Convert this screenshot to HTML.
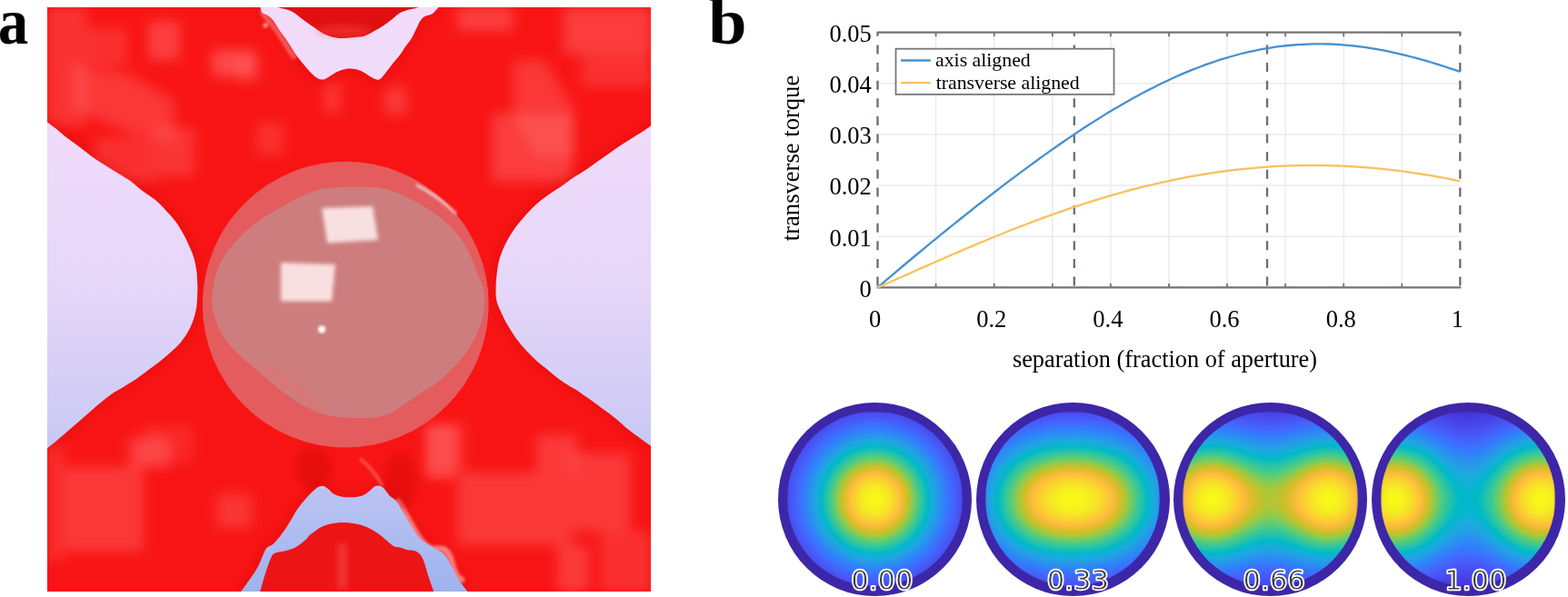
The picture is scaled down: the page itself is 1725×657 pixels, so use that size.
<!DOCTYPE html>
<html><head><meta charset="utf-8"><title>figure</title><style>
html,body{margin:0;padding:0;background:#fff;}
body{width:1725px;height:657px;position:relative;overflow:hidden;}
svg{position:absolute;left:0;top:0;}
.ring{position:absolute;border-radius:50%;background:#3e26a8;}
.disk{position:absolute;border-radius:50%;overflow:hidden;}
.blr{position:absolute;left:0;top:0;width:100%;height:100%;filter:blur(0.8px);}
.blr div{position:absolute;left:0;width:100%;height:2.5px;}
.c0r0{background:linear-gradient(90deg,#402ab5 0.0%,#4434cf 17.1%,#4746ea 34.3%,#484ef1 51.4%,#4742e6 69.1%,#412dbb 94.5%,#402ab5 99.7%)}.c0r1{background:linear-gradient(90deg,#402bb6 0.0%,#4435d1 16.6%,#4848ec 33.2%,#4853f4 49.8%,#4848ec 66.5%,#4535d2 83.1%,#402bb6 99.7%)}.c0r2{background:linear-gradient(90deg,#402bb7 0.0%,#4536d4 16.6%,#484cef 33.2%,#4757f7 49.3%,#484ef1 64.9%,#4639d9 81.0%,#412cb9 98.7%,#402bb8 99.7%)}.c0r3{background:linear-gradient(90deg,#412cb8 0.0%,#4538d8 16.6%,#484ff2 32.7%,#475bfa 48.3%,#4854f5 62.8%,#463ee1 78.9%,#412cb9 99.2%,#412cb9 99.7%)}.c0r4{background:linear-gradient(90deg,#412cba 0.0%,#473ee1 19.7%,#4757f7 35.8%,#4661fc 50.4%,#4855f6 65.4%,#463cdf 81.5%,#412cba 99.7%)}.c0r5{background:linear-gradient(90deg,#412dbb 0.0%,#463ee1 18.2%,#4759f8 34.3%,#4466fd 48.8%,#465dfb 62.3%,#4743e8 78.4%,#4230c3 95.0%,#412dbb 99.7%)}.c0r6{background:linear-gradient(90deg,#412dbc 0.0%,#473ee2 17.1%,#475bf9 32.7%,#416bfe 47.2%,#4466fd 59.7%,#484ef1 74.2%,#4434cf 90.9%,#412dbd 99.7%)}.c0r7{background:linear-gradient(90deg,#412ebe 0.0%,#473fe2 16.1%,#475cfa 31.2%,#3d71ff 45.7%,#3f6eff 57.1%,#4855f6 72.7%,#4538d8 88.3%,#422ebe 99.7%)}.c0r8{background:linear-gradient(90deg,#422ebf 0.0%,#473fe3 15.1%,#465efb 29.6%,#3776fe 44.7%,#3776fe 55.6%,#475cfa 71.1%,#463de0 86.2%,#422ec0 99.7%)}.c0r9{background:linear-gradient(90deg,#422fc1 0.0%,#4741e5 14.5%,#4660fc 28.6%,#3579fd 41.0%,#307ffb 51.9%,#3974ff 61.8%,#475dfa 72.7%,#463de0 87.2%,#422fc1 99.7%)}.c0r10{background:linear-gradient(90deg,#422fc2 0.0%,#4741e5 13.5%,#4660fc 27.0%,#3777fe 36.3%,#2e83f9 43.6%,#2e84f8 54.5%,#3579fd 62.8%,#4561fc 72.7%,#4741e5 86.2%,#4230c3 99.7%)}.c0r11{background:linear-gradient(90deg,#4230c4 0.0%,#4742e6 13.0%,#4562fc 26.0%,#3579fd 34.3%,#2e86f8 41.0%,#2d8cf3 51.9%,#307efb 63.3%,#4367fd 72.2%,#4849ed 84.1%,#4433cb 97.1%,#4330c5 99.7%)}.c0r12{background:linear-gradient(90deg,#4331c6 0.0%,#4743e7 12.5%,#4564fd 24.9%,#337bfd 32.7%,#2c90f0 44.1%,#2b91ef 54.5%,#307efb 65.9%,#4368fe 73.7%,#4849ed 85.2%,#4433cc 97.6%,#4331c7 99.7%)}.c0r13{background:linear-gradient(90deg,#4331c8 0.0%,#4744e9 11.9%,#4465fd 23.9%,#317cfc 31.2%,#2995ec 42.6%,#2699e9 53.0%,#2d89f5 63.9%,#347afd 69.6%,#4464fd 76.3%,#4744e8 88.3%,#4332c9 99.7%)}.c0r14{background:linear-gradient(90deg,#4332ca 0.0%,#4745ea 11.4%,#4466fd 22.8%,#317dfc 29.6%,#2699e9 41.0%,#23a0e5 51.4%,#2994ed 61.8%,#337bfc 71.1%,#4465fd 77.4%,#4745e9 88.8%,#4332cb 99.7%)}.c0r15{background:linear-gradient(90deg,#4433cc 0.0%,#4848ec 11.4%,#4367fd 21.8%,#307efb 28.0%,#259de6 40.0%,#1fa6e2 50.4%,#259ce7 60.7%,#337bfc 72.7%,#4466fd 78.4%,#4744e9 89.8%,#4433cd 99.7%)}.c0r16{background:linear-gradient(90deg,#4434ce 0.0%,#4849ed 10.9%,#4368fd 20.8%,#307efc 26.5%,#23a1e5 38.4%,#19acdc 48.8%,#20a5e2 59.2%,#2d8df2 69.1%,#337bfc 74.2%,#4465fd 80.0%,#4743e7 91.4%,#4434cf 99.7%)}.c0r17{background:linear-gradient(90deg,#4434d0 0.0%,#484bef 10.9%,#426afe 20.2%,#2f81fa 26.0%,#20a4e3 37.4%,#11b2d5 47.2%,#12b1d6 54.0%,#22a1e4 63.9%,#347afd 75.8%,#4465fd 81.0%,#4742e6 92.4%,#4435d1 99.7%)}.c0r18{background:linear-gradient(90deg,#4535d2 0.0%,#484df1 10.9%,#426afe 19.2%,#2f80fb 24.4%,#22a2e4 34.3%,#0bb3d2 43.1%,#02b7cc 48.8%,#07b5d0 55.6%,#1fa6e2 64.4%,#2e85f8 74.2%,#3776fe 77.9%,#4563fd 82.6%,#473fe3 94.5%,#4536d3 99.7%)}.c0r19{background:linear-gradient(90deg,#4536d4 0.0%,#4850f3 10.9%,#416cfe 18.7%,#2e83f9 23.9%,#22a2e4 32.2%,#10b2d5 38.4%,#01b8ca 42.6%,#04bbc1 50.4%,#02b7cc 58.2%,#1da9e0 65.4%,#2e86f7 75.3%,#3579fd 78.4%,#4465fd 83.1%,#4742e6 94.0%,#4536d5 99.7%)}.c0r20{background:linear-gradient(90deg,#4537d6 0.0%,#4852f4 10.9%,#416cfe 17.7%,#2e83f9 22.8%,#22a2e4 30.6%,#12b1d6 35.8%,#02b7cb 38.9%,#03bbc2 42.1%,#16bfb7 48.3%,#13beb9 53.5%,#00b9c7 59.7%,#06b5cf 62.3%,#1babde 66.5%,#2d89f5 75.8%,#3579fd 79.4%,#4464fd 84.1%,#4740e4 95.5%,#4537d7 99.7%)}.c0r21{background:linear-gradient(90deg,#4538d8 0.0%,#4855f6 10.9%,#406dfe 17.1%,#2f81fa 21.3%,#249fe5 28.6%,#12b1d7 33.7%,#01b8ca 36.9%,#05bcc0 39.5%,#21c1b1 44.7%,#28c2ab 50.4%,#20c1b1 55.6%,#01bac4 61.8%,#03b6cd 63.9%,#1aacdd 68.0%,#2d89f5 76.8%,#3579fd 80.5%,#4466fd 84.6%,#4743e7 95.0%,#4538d9 99.7%)}.c0r22{background:linear-gradient(90deg,#4639d9 0.0%,#4757f7 10.9%,#3e6fff 16.6%,#2e83f9 20.8%,#23a0e5 27.5%,#12b1d6 32.2%,#01b8ca 34.8%,#04bbc1 36.9%,#24c1ae 41.5%,#31c5a1 47.2%,#30c5a2 53.5%,#23c1af 58.7%,#01bac4 63.9%,#04b6ce 65.9%,#1aabdd 69.6%,#2d89f5 77.9%,#337bfd 81.0%,#4367fd 85.2%,#4744e9 95.0%,#4639da 99.7%)}.c0r23{background:linear-gradient(90deg,#463adb 0.0%,#475af9 10.9%,#3d70ff 16.1%,#2e82f9 19.7%,#249fe5 26.0%,#12b1d7 30.6%,#01b8ca 33.2%,#03bbc1 34.8%,#25c2ad 38.9%,#36c899 44.7%,#3cc991 50.4%,#33c79c 56.6%,#24c1ae 61.3%,#02bbc3 65.4%,#01b7cb 67.0%,#1babde 71.1%,#2d89f6 78.9%,#347afd 82.0%,#4466fd 86.2%,#4742e6 96.6%,#463bdc 99.7%)}.c0r24{background:linear-gradient(90deg,#463bdd 0.0%,#475cfa 10.9%,#3c71ff 15.6%,#2f82fa 18.7%,#249fe5 24.9%,#14b0d8 29.1%,#01b8ca 31.7%,#04bbc1 33.2%,#26c2ad 36.9%,#45cb89 45.2%,#4ecc82 49.8%,#44cb89 55.0%,#24c1ae 63.3%,#03bbc2 67.0%,#02b7cb 68.5%,#1babde 72.2%,#2d88f6 80.0%,#3579fd 83.1%,#4464fd 87.2%,#473fe3 98.1%,#463cde 99.7%)}.c0r25{background:linear-gradient(90deg,#463cdf 0.0%,#465ffb 10.9%,#3b72ff 15.1%,#2e83f9 18.2%,#23a1e4 24.4%,#13b0d7 28.0%,#02b7cb 30.1%,#03bbc2 31.7%,#27c2ac 35.3%,#4ecc81 43.1%,#60cd72 47.8%,#60cd73 52.4%,#4dcc82 57.1%,#30c5a1 62.8%,#22c1b0 65.4%,#02bbc3 68.5%,#03b6cd 70.1%,#1aacdd 73.2%,#2d8af5 80.5%,#347afd 83.6%,#4465fd 87.7%,#4741e4 98.1%,#463de0 99.7%)}.c0r26{background:linear-gradient(90deg,#463de0 0.0%,#4562fc 10.9%,#3a73ff 14.5%,#2e84f9 17.7%,#23a0e5 23.4%,#13b0d7 27.0%,#01b7cb 29.1%,#05bcc0 30.6%,#27c2ac 33.7%,#44cb89 38.9%,#68cd6b 44.1%,#78cc5f 48.8%,#74cd62 53.0%,#5acc77 58.2%,#36c899 63.3%,#21c1b1 67.0%,#03bbc2 69.6%,#02b7cc 71.1%,#1aabdd 74.2%,#2d88f6 81.5%,#3678fd 84.6%,#4465fd 88.3%,#4741e4 98.7%,#463ee1 99.7%)}.c0r27{background:linear-gradient(90deg,#473ee2 0.0%,#4562fc 10.4%,#3a74ff 14.0%,#2f82f9 16.6%,#249fe5 22.3%,#14b0d8 26.0%,#01b7ca 28.0%,#06bcc0 29.6%,#25c2ad 32.2%,#43ca8b 36.9%,#78cc5f 43.1%,#8dcb50 47.2%,#8fcb4d 51.4%,#81cc59 55.6%,#59cc78 60.7%,#36c898 64.9%,#23c1af 68.0%,#04bbc1 70.6%,#02b7cc 72.2%,#19addb 74.8%,#2d8cf3 81.5%,#327cfc 84.6%,#4466fd 88.8%,#4742e6 98.7%,#473fe3 99.7%)}.c0r28{background:linear-gradient(90deg,#473fe3 0.0%,#4464fd 10.4%,#3677fe 14.0%,#2e86f8 16.6%,#21a3e3 22.3%,#10b2d5 25.4%,#01b7cb 27.0%,#02bac3 28.0%,#27c2ac 31.2%,#43ca8b 35.3%,#82cc58 41.5%,#9dc943 45.7%,#a7c73c 49.8%,#9ec942 54.0%,#85cc56 58.2%,#41ca8c 64.9%,#25c2ae 69.1%,#04bbc1 71.7%,#00b8c9 72.7%,#19acdc 75.8%,#2d8af5 82.6%,#3479fd 85.7%,#4466fd 89.3%,#4742e6 99.2%,#4740e4 99.7%)}.c0r29{background:linear-gradient(90deg,#4740e4 0.0%,#4464fd 9.9%,#3678fe 13.5%,#2e86f7 16.1%,#22a2e4 21.3%,#12b1d7 24.4%,#02b7cc 26.0%,#01bac4 27.0%,#0bbdbc 28.0%,#27c2ac 30.1%,#40ca8d 33.7%,#8ecb4f 40.5%,#adc638 44.7%,#bbc430 48.8%,#b7c532 53.0%,#a2c83f 57.1%,#7bcc5d 61.3%,#3ac993 67.0%,#25c2ae 70.1%,#03bbc2 72.7%,#01b8ca 73.7%,#1babde 76.8%,#2d8bf4 83.1%,#347afd 86.2%,#4466fd 89.8%,#4741e5 99.7%)}.c0r30{background:linear-gradient(90deg,#4742e6 0.0%,#4464fd 9.3%,#3678fe 13.0%,#2e86f7 15.6%,#21a3e4 20.8%,#15b0d8 23.4%,#01b8ca 25.4%,#03bbc2 26.5%,#26c2ad 29.1%,#42ca8b 32.7%,#91ca4c 38.9%,#b3c534 42.6%,#c9c129 46.7%,#cec027 50.9%,#c2c22c 55.0%,#a5c83d 59.2%,#75cc61 63.3%,#3bc993 68.0%,#24c1ae 71.1%,#02bac4 73.7%,#02b7cb 74.8%,#1aacdd 77.4%,#2d8bf4 83.6%,#347afd 86.7%,#4466fd 90.3%,#4742e7 99.7%)}.c0r31{background:linear-gradient(90deg,#4743e7 0.0%,#4467fd 9.3%,#337bfd 13.0%,#21a3e3 20.2%,#14b0d7 22.8%,#02b7cc 24.4%,#01bac4 25.4%,#0dbdbb 26.5%,#29c3aa 28.6%,#42ca8b 31.7%,#91ca4c 37.4%,#b4c533 40.5%,#ccc028 43.6%,#dcbd29 47.8%,#dcbd29 52.4%,#cbc128 56.6%,#adc638 60.2%,#79cc5e 64.4%,#3ac993 69.1%,#22c1b0 72.2%,#03bbc1 74.2%,#01b8ca 75.3%,#19addc 77.9%,#2d8bf4 84.1%,#347afd 87.2%,#4465fd 90.9%,#4744e8 99.7%)}.c0r32{background:linear-gradient(90deg,#4744e8 0.0%,#4466fd 8.8%,#337afd 12.5%,#21a4e3 19.7%,#12b1d7 22.3%,#02b7cb 23.9%,#02bbc3 24.9%,#27c2ac 27.5%,#40ca8d 30.6%,#8ecb4f 35.8%,#b6c532 38.9%,#cec027 41.5%,#e5bb2c 45.7%,#ecba32 50.4%,#e2bc2b 55.0%,#c8c129 59.2%,#a7c73c 62.3%,#53cc7d 68.0%,#39c995 70.1%,#25c2ae 72.7%,#05bcc0 74.8%,#00b8c8 75.8%,#1babde 78.9%,#2d88f6 85.2%,#3479fd 87.7%,#4465fd 91.4%,#4745e9 99.7%)}.c0r33{background:linear-gradient(90deg,#4745e9 0.0%,#4465fd 8.3%,#347afd 11.9%,#21a4e3 19.2%,#12b1d6 21.8%,#01b8ca 23.4%,#03bbc1 24.4%,#29c3aa 27.0%,#3eca8f 29.6%,#87cb54 34.3%,#b4c534 37.4%,#d0bf27 40.0%,#ecba32 44.1%,#f7ba3d 48.3%,#f4ba3a 53.5%,#e2bc2b 57.6%,#c9c129 60.7%,#a3c83f 63.9%,#51cc7f 69.1%,#37c897 71.1%,#21c1b1 73.7%,#07bcbf 75.3%,#00b9c8 76.3%,#07b5d0 77.4%,#18aedb 78.9%,#2d8ef1 84.6%,#327cfc 87.7%,#4367fd 91.4%,#4746ea 99.7%)}.c0r34{background:linear-gradient(90deg,#4746ea 0.0%,#4367fd 8.3%,#317cfc 11.9%,#23a1e5 18.2%,#12b1d6 21.3%,#01b8ca 22.8%,#04bbc1 23.9%,#25c2ae 26.0%,#41ca8c 29.1%,#8ecb4f 33.7%,#b5c533 36.3%,#cfc027 38.4%,#e9ba2f 41.5%,#f9ba3e 44.7%,#febf3b 49.3%,#fabb3e 55.0%,#e8bb2e 58.7%,#ccc028 61.8%,#abc739 64.4%,#55cc7b 69.6%,#39c895 71.7%,#22c1b0 74.2%,#02bbc3 76.3%,#02b7cc 77.4%,#18aedb 79.4%,#2d8df2 85.2%,#337bfc 88.3%,#4466fd 91.9%,#4747eb 99.7%)}.c0r35{background:linear-gradient(90deg,#4747eb 0.0%,#4466fd 7.8%,#327bfc 11.4%,#21a3e3 18.2%,#12b1d6 20.8%,#01b8ca 22.3%,#04bbc1 23.4%,#26c2ad 25.4%,#43ca8b 28.6%,#93ca4a 33.2%,#bcc42f 35.8%,#d0bf27 37.4%,#e9bb2f 40.0%,#faba3e 42.6%,#fec338 46.2%,#fec636 51.9%,#fbbb3e 57.1%,#ebba31 59.7%,#d3bf27 62.3%,#c0c32c 63.9%,#99c946 66.5%,#47cb87 71.1%,#35c79a 72.7%,#23c1af 74.8%,#02bbc3 76.8%,#02b7cc 77.9%,#18addb 80.0%,#2d8df2 85.7%,#337afd 88.8%,#4465fd 92.4%,#4848ec 99.7%)}.c0r36{background:linear-gradient(90deg,#4847ec 0.0%,#4368fe 7.8%,#307efc 11.4%,#249fe5 17.1%,#13b1d7 20.2%,#01b8ca 21.8%,#04bbc1 22.8%,#26c2ad 24.9%,#44cb89 28.0%,#8fcb4e 32.2%,#bac430 34.8%,#cfc027 36.3%,#e6bb2d 38.4%,#fabb3e 41.0%,#fec338 43.6%,#fdce31 49.3%,#fec735 55.0%,#fbbb3e 58.7%,#edba33 60.7%,#d9bd28 62.8%,#c6c22a 64.4%,#9dc943 67.0%,#52cc7e 71.1%,#3ac993 72.7%,#23c1af 75.3%,#02bbc3 77.4%,#02b7cc 78.4%,#19addc 80.5%,#2d8cf3 86.2%,#327cfc 88.8%,#4367fd 92.4%,#4848ec 99.7%)}.c0r37{background:linear-gradient(90deg,#4848ec 0.0%,#4467fd 7.3%,#327cfc 10.9%,#22a2e4 17.1%,#14b0d8 19.7%,#02b7cb 21.3%,#03bbc2 22.3%,#25c2ad 24.4%,#44cb89 27.5%,#91ca4c 31.7%,#bec32e 34.3%,#d4bf27 35.8%,#ebba31 37.9%,#fbbb3e 40.0%,#fdcb32 44.1%,#fad52d 49.8%,#fdcc32 55.6%,#fdbc3e 59.7%,#f2ba38 61.3%,#debd29 63.3%,#cac128 64.9%,#a0c840 67.5%,#52cc7e 71.7%,#3bc993 73.2%,#22c1b0 75.8%,#07bcbf 77.4%,#00b8c8 78.4%,#09b4d1 79.4%,#1aacdc 81.0%,#2d8bf4 86.7%,#337bfc 89.3%,#4368fe 92.4%,#4849ed 99.7%)}.c0r38{background:linear-gradient(90deg,#4849ed 0.0%,#4368fe 7.3%,#307efb 10.9%,#259de6 16.1%,#15afd9 19.2%,#03b7cc 20.8%,#02bbc3 21.8%,#2ac3a9 24.4%,#44cb8a 27.0%,#93ca4b 31.2%,#c1c32c 33.7%,#d7be28 35.3%,#eeba34 37.4%,#fbbb3e 38.9%,#fdcc32 42.6%,#f7db2a 48.3%,#f9d72c 54.0%,#fec13a 59.7%,#faba3e 61.3%,#dbbd28 64.4%,#c5c22a 65.9%,#99c946 68.5%,#49cb85 72.7%,#35c79a 74.2%,#21c1b1 76.3%,#05bcc0 77.9%,#01b8ca 78.9%,#1aabdd 81.5%,#2d89f5 87.2%,#3479fd 89.8%,#4367fd 92.9%,#484aee 99.7%)}.c0r39{background:linear-gradient(90deg,#484aee 0.0%,#4269fe 7.3%,#2f80fb 10.9%,#2896ec 14.5%,#17aeda 18.7%,#01b8c9 20.8%,#06bcc0 21.8%,#29c3ab 23.9%,#42ca8b 26.5%,#88cb53 30.1%,#b9c430 32.7%,#d2bf27 34.3%,#ebba31 36.3%,#fabb3e 37.9%,#fec537 40.0%,#f6de29 46.2%,#f5e228 51.4%,#fbd32e 57.1%,#febe3c 61.3%,#f8ba3d 62.3%,#ddbd29 64.9%,#c7c129 66.5%,#a3c83f 68.5%,#51cc7f 72.7%,#39c995 74.2%,#26c2ad 76.3%,#03bbc2 78.4%,#02b7cb 79.4%,#19addc 81.5%,#2d8ef1 86.7%,#337bfc 89.8%,#4368fe 92.9%,#484bee 99.7%)}.c0r40{background:linear-gradient(90deg,#484aee 0.0%,#4368fe 6.7%,#307efc 10.4%,#249de6 15.6%,#15b0d8 18.7%,#02b7cb 20.2%,#03bbc2 21.3%,#26c2ac 23.4%,#40ca8d 26.0%,#7bcc5d 29.1%,#afc636 31.7%,#cac128 33.2%,#e0bc2a 34.8%,#fbbb3e 37.4%,#fdcc32 40.5%,#f5e327 46.2%,#f5e726 51.9%,#fad62d 57.6%,#fdbc3d 62.3%,#f5ba3b 63.3%,#debd29 65.4%,#c7c129 67.0%,#a2c840 69.1%,#4ecc81 73.2%,#37c897 74.8%,#24c1af 76.8%,#07bcbf 78.4%,#00b8c8 79.4%,#0ab4d2 80.5%,#1aacdd 82.0%,#2d8cf3 87.2%,#317cfc 89.8%,#4467fd 93.5%,#484bef 99.7%)}.c0r41{background:linear-gradient(90deg,#484bef 0.0%,#4369fe 6.7%,#307ffb 10.4%,#2895ec 14.0%,#17aeda 18.2%,#01b8c9 20.2%,#07bcbf 21.3%,#23c1af 22.8%,#45cb89 26.0%,#8ecb4e 29.6%,#b7c532 31.7%,#d1bf27 33.2%,#e7bb2d 34.8%,#f7ba3d 36.3%,#fec13a 37.9%,#f6e028 43.6%,#f5ec22 48.8%,#f5e626 54.5%,#fdcd32 60.2%,#febd3d 62.8%,#f5ba3b 63.9%,#ddbd29 65.9%,#c6c22a 67.5%,#9fc941 69.6%,#54cc7c 73.2%,#3ac993 74.8%,#20c1b1 77.4%,#04bbc1 78.9%,#01b7cb 80.0%,#19addc 82.0%,#2d8ef2 87.2%,#337afd 90.3%,#4367fd 93.5%,#484cef 99.7%)}.c0r42{background:linear-gradient(90deg,#484bef 0.0%,#4269fe 6.7%,#2f80fb 10.4%,#2797eb 14.0%,#19addc 17.7%,#02b7cc 19.7%,#03bbc2 20.8%,#27c2ac 22.8%,#41ca8c 25.4%,#7fcc5a 28.6%,#b4c533 31.2%,#cfc027 32.7%,#e6bb2d 34.3%,#f7ba3c 35.8%,#febe3c 36.9%,#f6dd2a 42.1%,#f5ee21 47.2%,#f5ee21 53.0%,#f7dc2a 58.2%,#fec03b 62.8%,#fabb3e 63.9%,#dcbd29 66.5%,#c3c22b 68.0%,#9bc944 70.1%,#50cc80 73.7%,#38c896 75.3%,#24c1af 77.4%,#07bcbf 78.9%,#00b8c9 80.0%,#1aabdd 82.6%,#2d8cf3 87.7%,#327bfc 90.3%,#4368fe 93.5%,#484cf0 99.7%)}.c0r43{background:linear-gradient(90deg,#484cef 0.0%,#426afe 6.7%,#2f81fa 10.4%,#2797ea 14.0%,#18addb 17.7%,#01b8ca 19.7%,#05bcc0 20.8%,#29c3aa 22.8%,#3dc990 24.9%,#79cc5e 28.0%,#b0c636 30.6%,#ccc028 32.2%,#e3bb2b 33.7%,#fbbb3e 35.8%,#fec835 37.9%,#f5e725 43.6%,#f7f41c 49.3%,#f5ec22 55.0%,#f9d72c 59.7%,#febf3b 63.3%,#f9ba3d 64.4%,#e0bc2a 66.5%,#c8c129 68.0%,#a1c840 70.1%,#54cc7c 73.7%,#3ac993 75.3%,#26c2ac 77.4%,#03bbc2 79.4%,#02b7cc 80.5%,#1aacdc 82.6%,#2d8cf3 87.7%,#327cfc 90.3%,#4466fd 94.0%,#484df0 99.7%)}.c0r44{background:linear-gradient(90deg,#484cf0 0.0%,#4368fe 6.2%,#307efb 9.9%,#2895ec 13.5%,#17aeda 17.7%,#00b8c9 19.7%,#08bcbe 20.8%,#25c2ae 22.3%,#3fca8e 24.9%,#7dcc5b 28.0%,#b4c533 30.6%,#d0bf27 32.2%,#e7bb2e 33.7%,#f9ba3d 35.3%,#fec338 36.9%,#f5e825 43.1%,#f7f61a 48.8%,#f6f01f 54.5%,#f8da2b 59.7%,#febe3c 63.9%,#f7ba3c 64.9%,#ddbd29 67.0%,#cdc028 68.0%,#a6c83d 70.1%,#58cc79 73.7%,#3cc991 75.3%,#21c1b0 77.9%,#04bcc1 79.4%,#01b7cb 80.5%,#19addc 82.6%,#2d8df2 87.7%,#317dfc 90.3%,#4467fd 94.0%,#484df0 99.7%)}.c0r45{background:linear-gradient(90deg,#484cf0 0.0%,#4368fe 6.2%,#307ffb 9.9%,#2896ec 13.5%,#16afd9 17.7%,#03b6cc 19.2%,#02bbc2 20.2%,#26c2ad 22.3%,#41ca8c 24.9%,#81cc58 28.0%,#b8c531 30.6%,#d3bf27 32.2%,#eaba30 33.7%,#fbbb3e 35.3%,#fec934 37.4%,#f5ea24 43.1%,#f8f818 48.8%,#f6f21e 54.5%,#f7dc2a 59.7%,#fec03b 63.9%,#f9ba3e 64.9%,#e0bc2a 67.0%,#c7c129 68.5%,#9ec942 70.6%,#51cc7f 74.2%,#38c896 75.8%,#23c1af 77.9%,#06bcbf 79.4%,#01b8ca 80.5%,#18aedb 82.6%,#2d8ef1 87.7%,#347afd 90.9%,#4367fd 94.0%,#484df1 99.7%)}.c0r46{background:linear-gradient(90deg,#484cf0 0.0%,#4369fe 6.2%,#307ffb 9.9%,#2896eb 13.5%,#1aacdc 17.1%,#02b7cc 19.2%,#03bbc2 20.2%,#27c2ac 22.3%,#43ca8a 24.9%,#83cc57 28.0%,#bac430 30.6%,#cdc028 31.7%,#e5bb2c 33.2%,#f7ba3d 34.8%,#febf3b 35.8%,#f5e128 41.0%,#f7f61a 46.2%,#f9f916 51.4%,#f5eb23 57.1%,#fbd32e 61.3%,#febd3d 64.4%,#f5ba3b 65.4%,#e2bc2b 67.0%,#c9c129 68.5%,#a1c840 70.6%,#53cc7e 74.2%,#39c995 75.8%,#24c2ae 77.9%,#07bcbf 79.4%,#01bac4 80.0%,#04b6ce 81.0%,#17aeda 82.6%,#2d8ef1 87.7%,#337afd 90.9%,#4367fd 94.0%,#484ef1 99.7%)}.c0r47{background:linear-gradient(90deg,#484df0 0.0%,#4369fe 6.2%,#2f7ffb 9.9%,#2796eb 13.5%,#19addc 17.1%,#02b7cb 19.2%,#04bbc1 20.2%,#28c2ab 22.3%,#44cb8a 24.9%,#90ca4d 28.6%,#bbc42f 30.6%,#cec027 31.7%,#e6bb2d 33.2%,#f8ba3d 34.8%,#febf3b 35.8%,#f5e227 41.0%,#f8f61a 46.2%,#f9fa15 51.4%,#f5eb23 57.1%,#fad42e 61.3%,#febe3c 64.4%,#f6ba3c 65.4%,#dbbd28 67.5%,#cac128 68.5%,#a2c83f 70.6%,#54cc7d 74.2%,#39c994 75.8%,#25c2ae 77.9%,#02bac3 80.0%,#04b6cd 81.0%,#17aeda 82.6%,#2d8ef1 87.7%,#337bfd 90.9%,#4368fd 94.0%,#484ef1 99.7%)}.c0r48{background:linear-gradient(90deg,#484df0 0.0%,#4369fe 6.2%,#2f7ffb 9.9%,#2796eb 13.5%,#19addc 17.1%,#02b7cb 19.2%,#04bbc1 20.2%,#28c2ab 22.3%,#44cb8a 24.9%,#90ca4d 28.6%,#bbc42f 30.6%,#cec027 31.7%,#e6bb2d 33.2%,#f8ba3d 34.8%,#fec03b 35.8%,#f5e227 41.0%,#f8f61a 46.2%,#f9fa15 51.4%,#f5eb23 57.1%,#fad42e 61.3%,#febe3c 64.4%,#f6ba3c 65.4%,#dbbd28 67.5%,#cac128 68.5%,#a2c83f 70.6%,#54cc7d 74.2%,#39c994 75.8%,#25c2ad 77.9%,#02bac3 80.0%,#04b6cd 81.0%,#17aeda 82.6%,#2d8ef1 87.7%,#337bfd 90.9%,#4368fe 94.0%,#484ef1 99.7%)}.c1r0{background:linear-gradient(90deg,#4332c9 0.0%,#4742e7 21.3%,#484ef1 45.7%,#4848ec 71.1%,#4538d8 90.9%,#4332c9 99.7%)}.c1r1{background:linear-gradient(90deg,#4433cb 0.0%,#4745e9 20.2%,#4852f4 44.7%,#484df0 69.6%,#463bdd 89.3%,#4433cc 99.7%)}.c1r2{background:linear-gradient(90deg,#4434ce 0.0%,#4747eb 19.2%,#4756f7 42.6%,#4852f4 66.5%,#4740e3 87.2%,#4434cf 99.7%)}.c1r3{background:linear-gradient(90deg,#4435d1 0.0%,#4849ed 18.2%,#475af9 41.0%,#4758f8 64.4%,#4744e9 85.7%,#4535d2 99.7%)}.c1r4{background:linear-gradient(90deg,#4536d4 0.0%,#484cef 17.7%,#465ffb 40.0%,#465efb 62.3%,#4849ed 84.1%,#4536d5 99.7%)}.c1r5{background:linear-gradient(90deg,#4538d7 0.0%,#484ff2 17.7%,#4563fd 38.9%,#4564fd 60.2%,#4850f2 82.0%,#4538d8 99.7%)}.c1r6{background:linear-gradient(90deg,#4639da 0.0%,#4852f4 17.1%,#4368fe 37.4%,#426afe 57.6%,#4758f8 78.4%,#473ee2 96.1%,#463adb 99.7%)}.c1r7{background:linear-gradient(90deg,#463bdd 0.0%,#4756f7 17.1%,#3f6eff 37.9%,#3d71ff 57.1%,#465ffb 76.3%,#4744e8 94.0%,#463bde 99.7%)}.c1r8{background:linear-gradient(90deg,#463de0 0.0%,#4759f8 16.6%,#3a74ff 36.9%,#3678fd 55.0%,#4369fe 73.2%,#484ff2 89.3%,#463de0 99.7%)}.c1r9{background:linear-gradient(90deg,#473fe3 0.0%,#465dfb 16.6%,#3678fe 34.3%,#2f7ffb 50.9%,#3777fe 66.5%,#475dfa 83.6%,#473fe3 99.7%)}.c1r10{background:linear-gradient(90deg,#4741e5 0.0%,#4660fb 15.6%,#3678fd 29.1%,#2e83f9 40.5%,#2e84f9 58.7%,#3578fd 70.6%,#4660fc 84.1%,#4742e6 99.7%)}.c1r11{background:linear-gradient(90deg,#4743e8 0.0%,#4562fc 14.5%,#337afd 26.5%,#2d89f5 40.0%,#2d8af4 58.2%,#337bfd 73.2%,#4563fc 85.2%,#4744e8 99.7%)}.c1r12{background:linear-gradient(90deg,#4746ea 0.0%,#4564fd 13.5%,#327cfc 23.9%,#2c8ff0 39.5%,#2b91ef 57.1%,#2f81fa 73.2%,#426afe 84.1%,#484df0 96.6%,#4747eb 99.7%)}.c1r13{background:linear-gradient(90deg,#4848ec 0.0%,#4367fd 13.0%,#307efb 22.3%,#2994ed 37.4%,#2699e9 54.5%,#2d8bf4 70.6%,#337afd 79.4%,#4564fd 88.3%,#4849ed 99.7%)}.c1r14{background:linear-gradient(90deg,#484bef 0.0%,#4269fe 11.9%,#2f80fb 20.2%,#2699e9 35.3%,#23a0e5 52.4%,#2994ed 68.5%,#327bfc 81.5%,#4464fd 89.8%,#484cef 99.7%)}.c1r15{background:linear-gradient(90deg,#484ef1 0.0%,#416bfe 10.9%,#2f81fa 18.7%,#259de7 33.2%,#1fa6e2 49.3%,#249ee6 65.9%,#2e83f9 80.5%,#3975fe 85.7%,#4561fc 92.4%,#484ef1 99.7%)}.c1r16{background:linear-gradient(90deg,#4850f3 0.0%,#406cfe 9.9%,#2f81fa 16.6%,#249fe5 30.6%,#1aacdd 46.2%,#1ea7e1 62.8%,#2c90ef 77.4%,#337bfd 85.7%,#4465fd 92.4%,#4851f4 99.7%)}.c1r17{background:linear-gradient(90deg,#4853f5 0.0%,#3f6efe 8.8%,#2f82f9 15.1%,#21a3e3 29.1%,#12b1d6 43.6%,#11b1d6 55.0%,#20a4e3 70.1%,#2d8af4 82.0%,#337bfc 87.2%,#4465fd 94.0%,#4854f5 99.7%)}.c1r18{background:linear-gradient(90deg,#4756f7 0.0%,#3f6fff 7.8%,#2e82f9 13.5%,#20a4e3 26.5%,#08b4d1 40.0%,#02b7cb 50.9%,#0ab4d1 60.7%,#21a3e4 74.2%,#317dfc 88.3%,#4465fd 95.0%,#4757f7 99.7%)}.c1r19{background:linear-gradient(90deg,#4759f8 0.0%,#3e6fff 6.7%,#2f82f9 11.9%,#20a4e3 23.9%,#0eb2d4 32.2%,#01b8ca 37.9%,#04bbc1 50.4%,#02b7cb 62.8%,#1ea7e1 74.8%,#2d8af5 85.7%,#337afd 90.3%,#4465fd 96.1%,#475af9 99.7%)}.c1r20{background:linear-gradient(90deg,#475cfa 0.0%,#3e70ff 5.7%,#2f82fa 10.4%,#22a2e4 20.8%,#10b2d5 28.0%,#01b8ca 32.7%,#06bcbf 38.4%,#16bfb7 47.2%,#12beb9 56.1%,#00b9c7 65.9%,#08b4d1 70.1%,#1baade 75.8%,#2d8af5 87.2%,#3479fd 91.9%,#4466fd 97.1%,#475dfa 99.7%)}.c1r21{background:linear-gradient(90deg,#465ffb 0.0%,#3c72ff 5.2%,#2e83f9 9.3%,#22a2e4 18.7%,#10b2d5 25.4%,#01b7ca 29.1%,#04bcc1 32.7%,#1fc0b2 40.5%,#28c2ab 49.8%,#20c1b1 59.2%,#01bac5 69.1%,#06b5cf 72.7%,#1babde 77.9%,#2d87f6 89.3%,#347afd 92.9%,#4465fd 98.1%,#4660fc 99.7%)}.c1r22{background:linear-gradient(90deg,#4562fc 0.0%,#3a74ff 4.7%,#2e83f9 8.3%,#22a2e4 17.1%,#11b1d6 22.8%,#01b8ca 26.5%,#06bcc0 29.6%,#23c1af 35.8%,#30c5a2 44.1%,#30c5a1 55.0%,#24c1ae 63.9%,#0abdbd 69.6%,#00b9c7 72.7%,#07b5d0 75.3%,#1aacdd 79.4%,#2d88f6 90.3%,#347afd 94.0%,#4465fd 99.2%,#4563fd 99.7%)}.c1r23{background:linear-gradient(90deg,#4465fd 0.0%,#337bfd 5.2%,#1da9e0 17.7%,#0fb2d4 21.3%,#01b7cb 23.9%,#04bbc1 26.5%,#25c2ae 32.2%,#35c79a 40.5%,#3cc991 50.4%,#34c79b 60.2%,#24c1ae 68.0%,#02bac3 74.2%,#04b6cd 76.8%,#19acdc 81.0%,#2d89f6 91.4%,#347afd 95.0%,#4466fd 99.7%)}.c1r24{background:linear-gradient(90deg,#4368fe 0.0%,#307ffb 5.2%,#249fe5 13.5%,#11b1d6 19.2%,#01b7cb 21.8%,#03bbc2 23.9%,#27c2ac 29.6%,#44cb8a 41.5%,#4ecc82 49.8%,#44cb89 58.2%,#2ac3a9 69.6%,#13beb8 73.7%,#02bbc3 76.3%,#02b7cc 78.4%,#1babde 83.1%,#2d89f6 92.4%,#3479fd 96.1%,#426afe 99.7%)}.c1r25{background:linear-gradient(90deg,#416cfe 0.0%,#2e83f9 5.2%,#23a0e5 12.5%,#11b1d6 17.7%,#01b8ca 20.2%,#04bcc1 22.3%,#27c2ac 27.0%,#51cc7f 39.5%,#61cd71 47.2%,#5ecd74 55.0%,#49cb85 62.8%,#23c1af 73.7%,#01bac4 78.4%,#04b6ce 80.5%,#1aacdd 84.1%,#2d88f6 93.5%,#3579fd 97.1%,#406dfe 99.7%)}.c1r26{background:linear-gradient(90deg,#3f6fff 0.0%,#2f82fa 4.2%,#23a0e5 11.4%,#12b1d7 16.1%,#01b7ca 18.7%,#05bcc0 20.8%,#27c2ac 24.9%,#49cb85 33.2%,#6acd69 41.0%,#78cc5f 48.3%,#73cd62 55.6%,#5acc77 63.3%,#34c79b 71.7%,#23c1af 75.8%,#02bac4 80.0%,#04b6ce 82.0%,#19addc 85.2%,#2d8af5 94.0%,#347afd 97.6%,#3d70ff 99.7%)}.c1r27{background:linear-gradient(90deg,#3c72ff 0.0%,#2e83f9 3.6%,#23a0e5 10.4%,#11b1d6 15.1%,#02b7cb 17.1%,#02bbc3 18.7%,#29c3aa 23.4%,#45cb89 29.6%,#77cc60 38.4%,#8ccb50 45.2%,#8fcb4e 52.4%,#81cc59 59.2%,#5ecd74 66.5%,#36c898 73.2%,#25c2ae 77.4%,#04bbc1 81.0%,#01b8ca 82.6%,#1aacdd 86.7%,#2d89f5 95.0%,#3579fd 98.7%,#3a74ff 99.7%)}.c1r28{background:linear-gradient(90deg,#3875fe 0.0%,#2e84f8 3.1%,#22a2e4 9.9%,#14b0d8 13.5%,#01b8ca 16.1%,#03bbc1 17.7%,#26c2ad 21.3%,#46cb87 27.5%,#80cc59 35.8%,#9bc945 42.1%,#a6c83c 48.8%,#a0c941 56.1%,#87cb54 62.8%,#58cc79 70.1%,#38c896 74.8%,#25c2ae 78.9%,#02bbc3 82.6%,#02b7cb 84.1%,#1aacdd 87.7%,#2d88f6 96.1%,#347afd 99.2%,#3777fe 99.7%)}.c1r29{background:linear-gradient(90deg,#3579fd 0.0%,#2d88f6 3.1%,#1caadf 10.9%,#0cb3d3 13.5%,#01b8ca 15.1%,#04bcc1 16.6%,#29c3aa 20.2%,#45cb89 25.4%,#88cb53 33.7%,#a9c73a 40.0%,#bac430 46.7%,#b9c431 54.0%,#a6c83c 60.7%,#83cc57 67.0%,#39c995 76.3%,#23c1af 80.5%,#03bbc2 83.6%,#02b7cb 85.2%,#1babde 88.8%,#2d89f5 96.6%,#337afd 99.7%)}.c1r30{background:linear-gradient(90deg,#327cfc 0.0%,#21a3e4 8.3%,#11b1d6 11.9%,#01b8ca 14.0%,#05bcc0 15.6%,#27c2ac 18.7%,#41ca8c 23.4%,#91ca4d 32.2%,#b4c534 37.9%,#c9c128 44.7%,#cdc027 51.9%,#bfc32d 59.2%,#a1c840 65.4%,#74cd62 71.1%,#39c895 77.9%,#25c2ae 81.5%,#03bbc2 84.6%,#02b7cb 86.2%,#19addc 89.3%,#2d8af5 97.1%,#317dfc 99.7%)}.c1r31{background:linear-gradient(90deg,#307ffb 0.0%,#249fe5 6.7%,#13b1d7 10.9%,#01b7cb 13.0%,#04bcc1 14.5%,#27c2ac 17.7%,#44cb89 22.3%,#92ca4b 30.1%,#b5c533 34.8%,#cec027 40.0%,#ddbd29 47.2%,#dabd28 55.0%,#c7c129 61.8%,#a6c83d 67.5%,#72cd64 73.2%,#3ac993 78.9%,#21c1b1 83.1%,#03bbc2 85.7%,#02b7cc 87.2%,#1aacdd 90.3%,#2d8af4 97.6%,#2f80fa 99.7%)}.c1r32{background:linear-gradient(90deg,#2f81fa 0.0%,#2896eb 4.2%,#18aedb 9.3%,#00b8c9 12.5%,#08bcbe 14.0%,#27c2ac 16.6%,#41ca8c 20.8%,#91ca4d 28.0%,#b9c431 32.7%,#d1bf27 36.9%,#e7bb2d 43.6%,#ecba32 51.9%,#e0bc2a 59.2%,#c8c129 64.9%,#a2c83f 70.1%,#55cc7b 77.4%,#38c896 80.5%,#20c1b1 84.1%,#02bbc3 86.7%,#04b6cd 88.3%,#19addc 90.9%,#2d8bf4 98.1%,#2e83f9 99.7%)}.c1r33{background:linear-gradient(90deg,#2e84f9 0.0%,#23a0e5 5.7%,#14b0d7 9.3%,#01b7ca 11.4%,#06bcc0 13.0%,#26c2ad 15.6%,#42ca8b 19.7%,#91ca4c 26.5%,#b9c430 30.6%,#d2bf27 34.3%,#ecba32 40.5%,#f8ba3d 47.8%,#f3ba3a 56.1%,#e1bc2a 62.8%,#c7c129 67.5%,#9fc941 72.2%,#4bcb84 79.4%,#35c79b 82.0%,#24c1af 84.6%,#04bbc1 87.2%,#02b7cc 88.8%,#18addb 91.4%,#2d8df2 98.1%,#2e86f8 99.7%)}.c1r34{background:linear-gradient(90deg,#2e86f7 0.0%,#1fa5e2 6.2%,#13b1d7 8.8%,#01b8c9 10.9%,#03bbc2 11.9%,#28c3ab 15.1%,#41ca8c 18.7%,#8ecb4e 24.9%,#b6c532 28.6%,#d0c027 31.7%,#eaba30 36.3%,#fabb3e 41.5%,#febf3b 51.4%,#f9ba3e 58.7%,#e1bc2a 65.4%,#cac128 69.1%,#a4c83e 73.2%,#51cc7f 80.0%,#37c897 82.6%,#21c1b0 85.7%,#02bac3 88.3%,#05b6ce 89.8%,#18aedb 91.9%,#2d8df2 98.7%,#2d88f6 99.7%)}.c1r35{background:linear-gradient(90deg,#2d89f6 0.0%,#1baade 6.7%,#0db3d3 8.8%,#00b8c8 10.4%,#04bbc1 11.4%,#26c2ad 14.0%,#3fca8e 17.7%,#89cb52 23.4%,#b4c533 27.0%,#d1bf27 30.1%,#ebba31 34.3%,#faba3e 37.9%,#fec338 43.6%,#fec636 53.5%,#fbbb3e 61.8%,#e7bb2e 66.5%,#cfc027 70.1%,#b2c534 73.2%,#78cc5f 77.9%,#3dca90 82.6%,#24c1af 86.2%,#02bbc2 88.8%,#04b6ce 90.3%,#17aeda 92.4%,#2d8df2 99.2%,#2d8af4 99.7%)}.c1r36{background:linear-gradient(90deg,#2d8bf4 0.0%,#19addc 6.7%,#00b8c8 9.9%,#05bcc0 10.9%,#27c2ac 13.5%,#42ca8b 17.1%,#90ca4d 22.8%,#bcc42f 26.5%,#d4bf27 29.1%,#edba33 32.7%,#fbbb3e 35.8%,#fecb33 44.1%,#fdcd31 53.5%,#fcbc3e 63.9%,#f1ba37 66.5%,#dbbd28 70.1%,#c4c22a 72.7%,#9bc945 76.3%,#4ccb83 82.0%,#37c897 84.1%,#25c2ae 86.7%,#03bbc2 89.3%,#01b8ca 90.3%,#1aacdd 93.5%,#2d8df3 99.7%)}.c1r37{background:linear-gradient(90deg,#2d8df2 0.0%,#19acdc 6.2%,#00b8c8 9.3%,#05bcc0 10.4%,#28c2ab 13.0%,#44cb89 16.6%,#95ca49 22.3%,#bcc42f 25.4%,#d2bf27 27.5%,#eaba30 30.6%,#fbbb3e 33.7%,#fec834 38.9%,#fad52d 48.3%,#fccf30 57.6%,#fcbb3e 65.9%,#efba35 68.5%,#d9be28 71.7%,#c5c22a 73.7%,#a0c840 76.8%,#4fcc80 82.6%,#38c896 84.6%,#26c2ad 87.2%,#03bbc2 89.8%,#01b8ca 90.9%,#1aabdd 94.0%,#2c8ff1 99.7%)}.c1r38{background:linear-gradient(90deg,#2c8ff1 0.0%,#17aeda 6.2%,#00b8c8 8.8%,#04bcc1 9.9%,#28c2ab 12.5%,#3fca8e 15.6%,#8acb52 20.8%,#b5c533 23.9%,#ccc028 26.0%,#e8bb2e 29.1%,#fbbb3e 32.2%,#fec934 36.9%,#f7db2b 46.2%,#f8d92c 55.6%,#fec438 64.9%,#faba3e 68.0%,#d9bd28 72.7%,#c5c22a 74.8%,#9dc943 77.9%,#51cc7f 83.1%,#38c895 85.2%,#26c2ad 87.7%,#03bbc2 90.3%,#01b8ca 91.4%,#18addb 94.0%,#2c90ef 99.7%)}.c1r39{background:linear-gradient(90deg,#2c90ef 0.0%,#18aedb 5.7%,#01b8c9 8.3%,#04bbc1 9.3%,#27c2ac 11.9%,#3fca8e 15.1%,#8ccb50 20.2%,#b8c431 23.4%,#d0bf27 25.4%,#e8bb2e 28.0%,#f9ba3e 30.6%,#fec339 33.2%,#f7dc2a 42.6%,#f5e228 51.9%,#fad52d 60.7%,#fdbc3e 68.5%,#f1ba38 70.6%,#ddbd29 73.2%,#c8c129 75.3%,#a0c841 78.4%,#51cc7f 83.6%,#38c896 85.7%,#25c2ae 88.3%,#02bbc3 90.9%,#01b7cb 91.9%,#19addc 94.5%,#2b92ee 99.7%)}.c1r40{background:linear-gradient(90deg,#2b92ee 0.0%,#16afd9 5.7%,#01b7cb 7.8%,#02bbc2 8.8%,#26c2ad 11.4%,#3eca8e 14.5%,#85cb56 19.2%,#b3c534 22.3%,#cdc028 24.4%,#e6bb2d 27.0%,#f9ba3e 29.6%,#fec13a 31.7%,#f7dc2a 40.0%,#f5e825 48.8%,#f6e028 58.2%,#fec437 67.5%,#fbbb3e 70.1%,#dbbd28 74.2%,#c5c22a 76.3%,#9ac945 79.4%,#49cb85 84.6%,#34c79c 86.7%,#24c1af 88.8%,#05bcc0 90.9%,#00b8c8 91.9%,#0eb3d4 93.5%,#1ca9df 95.5%,#2994ed 99.7%)}.c1r41{background:linear-gradient(90deg,#2a93ed 0.0%,#17aeda 5.2%,#02b7cc 7.3%,#01bac4 8.3%,#0dbdbc 9.3%,#29c3aa 11.4%,#43cb8a 14.5%,#8dcb50 19.2%,#bbc42f 22.3%,#d4bf27 24.4%,#ecba32 27.0%,#fbbb3e 29.1%,#fec934 32.7%,#f5e426 41.5%,#f5ec22 50.9%,#f5e228 59.7%,#fec437 68.5%,#faba3e 71.1%,#ddbd29 74.8%,#c6c22a 76.8%,#9ac945 80.0%,#47cb86 85.2%,#33c69d 87.2%,#22c1b0 89.3%,#03bbc2 91.4%,#01b8ca 92.4%,#19addc 95.0%,#2895ec 99.7%)}.c1r42{background:linear-gradient(90deg,#2994ed 0.0%,#19addc 4.7%,#01b8ca 7.3%,#03bbc2 8.3%,#27c2ac 10.9%,#41ca8c 14.0%,#8bcb51 18.7%,#bac430 21.8%,#cec027 23.4%,#e9bb2f 26.0%,#f9ba3e 28.0%,#fec239 30.1%,#f5e128 38.4%,#f6f020 47.2%,#f5ec23 56.6%,#f9d72d 64.9%,#fdbd3d 71.1%,#f4ba3a 72.7%,#ddbd29 75.3%,#c5c22a 77.4%,#98c946 80.5%,#4dcc82 85.2%,#35c79a 87.2%,#25c2ad 89.3%,#06bcbf 91.4%,#00b9c8 92.4%,#07b5d0 93.5%,#1aacdd 95.5%,#2896eb 99.7%)}.c1r43{background:linear-gradient(90deg,#2895ec 0.0%,#18aedb 4.7%,#00b8c8 7.3%,#05bcc0 8.3%,#25c2ae 10.4%,#3eca8f 13.5%,#7fcc5a 17.7%,#b1c635 20.8%,#cdc027 22.8%,#e4bb2c 24.9%,#f9ba3e 27.5%,#fec339 29.6%,#f5e327 37.9%,#f6f31d 46.7%,#f6f020 56.1%,#f7dc2a 64.4%,#febf3b 71.1%,#f8ba3d 72.7%,#dcbd29 75.8%,#cbc128 77.4%,#a6c83c 80.0%,#51cc7f 85.2%,#37c897 87.2%,#22c1b0 89.8%,#03bbc2 91.9%,#01b8ca 92.9%,#19addc 95.5%,#2797eb 99.7%)}.c1r44{background:linear-gradient(90deg,#2896eb 0.0%,#17aeda 4.7%,#02b7cb 6.7%,#02bbc3 7.8%,#27c2ac 10.4%,#41ca8c 13.5%,#8dcb50 18.2%,#b6c532 20.8%,#d1bf27 22.8%,#e7bb2e 24.9%,#f9ba3d 27.0%,#fec239 29.1%,#f5e426 37.4%,#f7f51b 46.2%,#f7f31d 55.6%,#f6e028 63.9%,#fec13a 71.1%,#fbbb3e 72.7%,#dbbd28 76.3%,#c8c129 77.9%,#a3c83f 80.5%,#55cc7c 85.2%,#39c995 87.2%,#24c1ae 89.8%,#05bcc0 91.9%,#00b8c9 92.9%,#1babde 96.1%,#2798ea 99.7%)}.c1r45{background:linear-gradient(90deg,#2797eb 0.0%,#19addc 4.2%,#01b8ca 6.7%,#03bbc2 7.8%,#28c2ab 10.4%,#43cb8a 13.5%,#90ca4d 18.2%,#b9c430 20.8%,#cec027 22.3%,#e5bb2c 24.4%,#fbbb3e 27.0%,#fec934 30.1%,#f5e924 38.4%,#f8f818 47.2%,#f7f51c 56.1%,#f5e128 64.4%,#fec13a 71.7%,#f9ba3e 73.2%,#debd29 76.3%,#cbc028 77.9%,#a6c83c 80.5%,#58cc79 85.2%,#3bc993 87.2%,#20c1b1 90.3%,#06bcbf 91.9%,#00b9c8 92.9%,#07b5d0 94.0%,#17aeda 95.5%,#2698ea 99.7%)}.c1r46{background:linear-gradient(90deg,#2797eb 0.0%,#19addc 4.2%,#01b8c9 6.7%,#04bbc1 7.8%,#29c3aa 10.4%,#3eca8f 13.0%,#81cc59 17.1%,#b4c534 20.2%,#d0bf27 22.3%,#e7bb2e 24.4%,#f9ba3d 26.5%,#fec338 28.6%,#f5e626 36.9%,#f8f818 45.7%,#f8f818 54.5%,#f5e626 63.3%,#fec437 71.1%,#fbbb3e 73.2%,#dabd28 76.8%,#c7c129 78.4%,#a0c841 81.0%,#51cc7f 85.7%,#37c897 87.7%,#21c1b1 90.3%,#02bbc3 92.4%,#02b7cb 93.5%,#1aacdd 96.1%,#2699e9 99.7%)}.c1r47{background:linear-gradient(90deg,#2797ea 0.0%,#18addb 4.2%,#01b8c9 6.7%,#05bcc0 7.8%,#2ac3a9 10.4%,#3fca8e 13.0%,#82cc58 17.1%,#b5c533 20.2%,#d1bf27 22.3%,#e8bb2e 24.4%,#faba3e 26.5%,#fec338 28.6%,#f5e924 37.4%,#f9f917 46.2%,#f8f818 55.0%,#f5e526 63.9%,#fec239 71.7%,#fcbb3e 73.2%,#ebba31 75.3%,#d5be27 77.4%,#c1c32c 78.9%,#99c946 81.5%,#4acb84 86.2%,#37c897 87.7%,#22c1b0 90.3%,#03bbc2 92.4%,#01b7cb 93.5%,#1aacdd 96.1%,#2699e9 99.7%)}.c1r48{background:linear-gradient(90deg,#2797ea 0.0%,#18addb 4.2%,#01b8c9 6.7%,#05bcc0 7.8%,#24c1ae 9.9%,#3fca8e 13.0%,#82cc58 17.1%,#b5c533 20.2%,#d1bf27 22.3%,#e8bb2f 24.4%,#faba3e 26.5%,#fec438 28.6%,#f5e924 37.4%,#f9f916 46.2%,#f8f818 55.0%,#f5e526 63.9%,#fec339 71.7%,#fcbb3e 73.2%,#ebba31 75.3%,#d5be27 77.4%,#c1c32c 78.9%,#99c946 81.5%,#4acb84 86.2%,#37c897 87.7%,#22c1b0 90.3%,#03bbc2 92.4%,#01b7cb 93.5%,#1aacdd 96.1%,#2699e9 99.7%)}.c2r0{background:linear-gradient(90deg,#4746ea 0.0%,#484ef1 17.7%,#4741e6 52.4%,#484ef1 85.7%,#4746ea 99.7%)}.c2r1{background:linear-gradient(90deg,#4849ed 0.0%,#4853f4 17.1%,#4744e9 51.9%,#4853f4 85.2%,#4849ed 99.7%)}.c2r2{background:linear-gradient(90deg,#484df0 0.0%,#4757f7 16.6%,#4848ec 51.9%,#4757f7 85.2%,#484df0 99.7%)}.c2r3{background:linear-gradient(90deg,#4850f3 0.0%,#475cfa 16.1%,#484bef 51.4%,#475cfa 84.6%,#4851f3 99.7%)}.c2r4{background:linear-gradient(90deg,#4854f6 0.0%,#4660fc 15.6%,#4756f6 35.3%,#484ff2 53.0%,#4661fc 84.1%,#4855f6 99.7%)}.c2r5{background:linear-gradient(90deg,#4759f8 0.0%,#4466fd 15.1%,#475dfa 32.2%,#4852f4 50.9%,#4466fd 84.1%,#475af9 98.7%,#4759f8 99.7%)}.c2r6{background:linear-gradient(90deg,#465dfa 0.0%,#416bfe 14.0%,#4465fd 29.1%,#4756f7 48.8%,#4660fc 65.9%,#416cfe 83.6%,#4561fc 97.1%,#465dfb 99.7%)}.c2r7{background:linear-gradient(90deg,#4562fc 0.0%,#3c71ff 13.5%,#406cfe 27.0%,#475af9 47.8%,#4561fc 62.8%,#3c72ff 82.0%,#426afe 94.5%,#4562fc 99.7%)}.c2r8{background:linear-gradient(90deg,#4367fd 0.0%,#3678fd 13.5%,#3a74ff 26.0%,#4661fc 43.6%,#4561fc 57.1%,#3975fe 75.3%,#3677fe 87.7%,#4367fd 99.7%)}.c2r9{background:linear-gradient(90deg,#406cfe 0.0%,#307efb 11.9%,#327cfc 24.4%,#4466fd 42.6%,#4465fd 55.6%,#3875fe 70.1%,#2f7ffb 82.6%,#3578fd 93.5%,#406dfe 99.7%)}.c2r10{background:linear-gradient(90deg,#3c72ff 0.0%,#2f81fa 8.3%,#2e85f8 20.2%,#347afd 31.7%,#426afe 45.2%,#416cfe 57.6%,#2f82fa 75.3%,#2e85f8 87.7%,#3479fd 96.6%,#3b73ff 99.7%)}.c2r11{background:linear-gradient(90deg,#3578fd 0.0%,#2e85f8 6.7%,#2d8cf3 18.2%,#307efc 33.2%,#3f6eff 47.8%,#3974ff 60.2%,#2e84f8 71.7%,#2d8cf3 84.6%,#2f81fa 96.1%,#3579fd 99.7%)}.c2r12{background:linear-gradient(90deg,#307ffb 0.0%,#2b91ef 11.4%,#2c90f0 23.4%,#337afd 40.0%,#3a73ff 51.9%,#2e86f8 68.0%,#2a93ee 82.0%,#2d8bf4 93.5%,#307ffb 99.7%)}.c2r13{background:linear-gradient(90deg,#2e84f8 0.0%,#2797ea 11.4%,#2796eb 23.4%,#337bfc 45.2%,#317cfc 56.6%,#2699e9 80.0%,#2995ec 91.4%,#2e85f8 99.7%)}.c2r14{background:linear-gradient(90deg,#2d8af4 0.0%,#259de6 10.9%,#249ee6 22.3%,#2f82fa 44.1%,#2f81fa 55.6%,#2896ec 70.6%,#23a0e5 83.6%,#2796eb 94.5%,#2d8bf4 99.7%)}.c2r15{background:linear-gradient(90deg,#2c90ef 0.0%,#21a4e3 10.9%,#20a4e3 22.3%,#2d88f6 43.6%,#2e86f7 54.5%,#2896ec 66.5%,#1fa6e2 81.0%,#23a1e5 91.9%,#2b91ef 99.7%)}.c2r16{background:linear-gradient(90deg,#2796eb 0.0%,#1caadf 10.9%,#1baade 22.3%,#2d8bf4 46.2%,#2d8ef1 57.1%,#1aacdd 79.4%,#1da8e0 90.9%,#2797eb 99.7%)}.c2r17{background:linear-gradient(90deg,#259ce7 0.0%,#15afd9 10.4%,#0fb2d5 18.2%,#1fa5e2 31.2%,#2c90ef 47.2%,#2895ec 58.2%,#16afd9 76.3%,#0fb2d5 84.6%,#1ea8e1 95.0%,#259de6 99.7%)}.c2r18{background:linear-gradient(90deg,#22a2e4 0.0%,#0bb4d2 9.3%,#02b7cb 15.6%,#08b4d0 23.4%,#1da9e0 32.7%,#2797eb 46.2%,#2699e9 57.1%,#19addb 70.1%,#03b6cd 80.0%,#05b5ce 88.3%,#1ea7e1 98.1%,#21a3e4 99.7%)}.c2r19{background:linear-gradient(90deg,#1ea8e1 0.0%,#0db3d3 5.2%,#01b8ca 8.8%,#04bbc1 17.1%,#02b7cc 26.0%,#1babde 34.8%,#259be7 47.2%,#23a0e5 58.2%,#14b0d7 68.5%,#01b8ca 74.8%,#04bbc1 83.6%,#02b7cc 91.9%,#1da8e0 99.7%)}.c2r20{background:linear-gradient(90deg,#19addc 0.0%,#01b7ca 5.2%,#05bcc0 8.8%,#16bfb7 14.5%,#13beb8 20.2%,#00bac6 27.5%,#05b5cf 31.2%,#1aacdd 37.4%,#23a0e5 49.3%,#1ca9df 60.7%,#0fb2d5 66.5%,#00b8c9 71.1%,#08bcbe 75.8%,#17bfb7 82.0%,#11beba 87.7%,#00b9c6 93.5%,#08b5d0 96.6%,#18aedb 99.7%)}.c2r21{background:linear-gradient(90deg,#10b2d5 0.0%,#01b7cb 2.6%,#04bbc1 5.2%,#21c1b1 10.9%,#28c2ab 17.1%,#1fc0b2 23.4%,#01bac4 30.6%,#05b5ce 34.3%,#18addb 40.0%,#1fa5e2 50.9%,#16afd9 61.3%,#01b8ca 67.5%,#06bcbf 71.1%,#21c1b1 77.4%,#28c2ab 84.1%,#1ec0b2 89.8%,#02bac3 95.5%,#04b6ce 98.1%,#0eb3d4 99.7%)}.c2r22{background:linear-gradient(90deg,#04b6cd 0.0%,#01bac4 2.1%,#25c2ae 7.8%,#31c6a0 14.0%,#2fc5a3 21.3%,#22c1b0 27.0%,#02bbc3 33.2%,#02b7cc 36.3%,#17aeda 43.1%,#1aabdd 53.5%,#10b2d5 59.7%,#00b8c8 64.9%,#07bcbf 68.0%,#25c2ae 73.7%,#31c6a0 81.0%,#2fc5a3 87.7%,#22c1b0 92.9%,#02bbc2 97.6%,#02b7cc 99.7%)}.c2r23{background:linear-gradient(90deg,#01bac5 0.0%,#0fbebb 2.1%,#26c2ac 5.2%,#38c896 11.9%,#3bc992 18.2%,#30c5a2 26.0%,#1ec0b2 31.2%,#03bbc2 35.8%,#02b7cc 39.5%,#14b0d8 46.7%,#13b1d7 54.5%,#00b9c7 62.3%,#09bdbe 65.4%,#27c2ac 70.6%,#3ac994 80.0%,#3ac993 86.2%,#2cc4a7 93.5%,#1bc0b4 96.6%,#02bbc3 99.7%)}.c2r24{background:linear-gradient(90deg,#0cbdbc 0.0%,#27c2ac 3.1%,#44cb89 11.4%,#4ecc82 16.6%,#44cb89 22.3%,#23c1af 33.2%,#03bbc2 38.9%,#02b7cc 43.1%,#0cb3d3 50.4%,#00b8c8 58.7%,#05bcc0 61.8%,#2ac3a9 68.5%,#49cb85 79.4%,#4dcc82 84.6%,#3dc990 90.9%,#26c2ad 97.1%,#10beba 99.7%)}.c2r25{background:linear-gradient(90deg,#1ec0b3 0.0%,#30c5a1 3.1%,#56cc7b 10.9%,#62cd70 16.1%,#5bcc77 21.3%,#33c79d 31.2%,#1ec0b3 36.9%,#04bbc1 41.5%,#01b8ca 47.2%,#00b9c7 55.0%,#07bcbf 59.2%,#2bc3a8 65.9%,#46cb88 73.7%,#5ecd74 80.0%,#61cd71 85.2%,#50cc7f 90.3%,#30c5a2 97.1%,#20c1b1 99.7%)}.c2r26{background:linear-gradient(90deg,#2ac3a9 0.0%,#46cb88 5.2%,#6bcd69 10.9%,#78cc5f 15.6%,#74cd62 20.2%,#55cc7c 27.0%,#37c898 32.7%,#1ec0b2 39.5%,#05bcc0 45.2%,#02bbc2 53.0%,#0dbdbc 57.1%,#2ec4a4 64.4%,#43cb8a 70.1%,#6dcd67 77.9%,#79cc5e 82.6%,#72cd63 87.2%,#54cc7c 92.9%,#35c79a 97.6%,#2cc4a7 99.7%)}.c2r27{background:linear-gradient(90deg,#31c69f 0.0%,#45cb88 3.1%,#78cc5f 9.3%,#8ccb50 13.5%,#8fcb4d 18.2%,#81cc58 22.8%,#50cc80 30.6%,#38c896 34.8%,#1ec0b2 42.6%,#0dbdbb 48.3%,#10beba 53.5%,#2cc4a7 61.3%,#40ca8d 67.0%,#80cc5a 76.8%,#8fcb4e 81.5%,#8dcb50 86.2%,#7acc5d 90.3%,#48cb86 96.6%,#33c69d 99.7%)}.c2r28{background:linear-gradient(90deg,#39c995 0.0%,#7fcc5a 7.3%,#9ac945 11.4%,#a7c83c 16.1%,#a0c941 20.8%,#85cb55 26.0%,#3eca8f 35.8%,#29c3aa 42.6%,#1bc0b4 49.3%,#23c1af 55.0%,#36c898 62.3%,#4ccb83 66.5%,#90ca4d 75.8%,#a4c83e 81.0%,#a4c83e 85.7%,#91ca4d 90.3%,#69cd6b 95.0%,#3bc992 99.7%)}.c2r29{background:linear-gradient(90deg,#45cb89 0.0%,#8acb51 6.2%,#aac73a 10.4%,#bac430 15.1%,#b8c431 19.7%,#a1c840 24.9%,#6ccd68 31.7%,#3fca8e 37.9%,#2dc4a5 44.1%,#27c2ac 50.9%,#31c6a0 57.6%,#40ca8d 62.3%,#7ccc5c 70.1%,#a5c83d 75.8%,#b8c431 80.5%,#bac430 85.2%,#a9c73a 89.8%,#88cb53 94.0%,#48cb86 99.7%)}.c2r30{background:linear-gradient(90deg,#54cc7c 0.0%,#99c946 5.7%,#bbc430 9.9%,#ccc028 14.5%,#ccc028 19.2%,#b8c431 24.4%,#92ca4b 29.6%,#50cc7f 37.4%,#3ac994 41.5%,#2fc5a3 47.8%,#31c6a0 54.0%,#3eca8e 59.7%,#66cd6d 65.4%,#acc738 73.7%,#c7c129 78.9%,#cec027 83.6%,#c4c22b 88.3%,#abc739 92.4%,#7fcc5a 96.6%,#58cc79 99.7%)}.c2r31{background:linear-gradient(90deg,#63cd6f 0.0%,#a1c840 4.7%,#c3c22b 8.3%,#d8be28 12.5%,#debc29 17.1%,#d3bf27 22.3%,#bdc32e 26.5%,#98ca47 31.2%,#5ccc76 37.9%,#40ca8d 42.6%,#35c79b 48.3%,#38c896 54.5%,#48cb86 59.2%,#73cd63 64.9%,#b4c534 72.2%,#cec027 76.3%,#ddbd29 81.5%,#dabd28 86.7%,#c8c129 90.9%,#a5c83d 95.0%,#68cd6c 99.7%)}.c2r32{background:linear-gradient(90deg,#74cd62 0.0%,#adc638 4.2%,#cbc128 7.3%,#e3bc2b 11.4%,#ecba32 16.6%,#e4bb2c 21.8%,#cac128 27.0%,#a5c83d 31.7%,#5fcd73 39.5%,#43cb8a 44.7%,#3bc992 50.4%,#44cb8a 55.6%,#61cd72 60.7%,#b4c533 70.1%,#cfc027 73.7%,#e6bb2d 78.9%,#ecba32 84.1%,#e2bc2b 88.8%,#cac128 92.9%,#a4c83e 96.6%,#79cc5e 99.7%)}.c2r33{background:linear-gradient(90deg,#85cc56 0.0%,#b1c635 3.1%,#cdc028 5.7%,#e9ba30 9.9%,#f7ba3c 14.5%,#f5ba3b 20.2%,#e2bc2b 25.4%,#cbc128 29.1%,#a2c83f 33.7%,#66cd6d 40.5%,#4bcb83 45.7%,#45cb89 50.4%,#4ecc81 55.0%,#6bcd69 60.2%,#bcc42f 69.1%,#d4bf27 72.2%,#eeba34 77.4%,#f8ba3d 82.6%,#f2ba38 87.7%,#e0bc2a 91.9%,#cbc128 94.5%,#a8c73b 97.6%,#8acb52 99.7%)}.c2r34{background:linear-gradient(90deg,#94ca4a 0.0%,#bac430 2.6%,#d1bf27 4.7%,#eaba30 7.8%,#f9ba3e 10.9%,#febf3b 16.1%,#fabb3e 22.3%,#e0bc2a 28.0%,#c9c129 31.2%,#99c946 36.3%,#69cd6a 42.1%,#55cc7c 46.7%,#51cc7f 51.4%,#5fcd73 56.1%,#7acc5d 60.2%,#bdc32e 67.5%,#d2bf27 70.1%,#eaba30 73.7%,#fbbb3e 77.9%,#febf3b 85.2%,#f8ba3d 89.3%,#e1bc2b 93.5%,#cac128 96.1%,#a1c840 99.2%,#99c946 99.7%)}.c2r35{background:linear-gradient(90deg,#a3c83f 0.0%,#c7c129 2.6%,#debd29 4.7%,#fabb3e 8.8%,#fec338 12.5%,#fec636 18.7%,#fcbc3e 24.4%,#f1ba37 27.0%,#dabd28 30.6%,#c4c22a 33.2%,#77cc60 42.1%,#62cd70 46.2%,#5ccc75 50.9%,#69cd6b 55.6%,#8dcb4f 60.7%,#c6c22a 67.0%,#dfbc2a 70.1%,#fbbb3e 75.3%,#fec735 83.1%,#febe3d 89.8%,#f6ba3c 91.9%,#dcbd29 95.5%,#c5c22a 97.6%,#a8c73b 99.7%)}.c2r36{background:linear-gradient(90deg,#b0c636 0.0%,#cdc027 2.1%,#e8bb2f 4.7%,#fbbb3e 7.3%,#fec636 10.9%,#fdce31 17.1%,#fec338 23.9%,#fabb3e 27.0%,#d9be28 32.2%,#c3c22b 34.8%,#81cc58 42.6%,#6ccd68 46.7%,#68cd6b 51.4%,#76cc61 55.6%,#9fc941 61.3%,#c9c128 65.9%,#e2bc2b 69.1%,#fbbb3e 73.2%,#feca33 78.9%,#fdce31 85.2%,#febd3d 91.9%,#f6ba3c 93.5%,#ddbd29 96.6%,#cbc128 98.1%,#b5c533 99.7%)}.c2r37{background:linear-gradient(90deg,#bcc42f 0.0%,#d2bf27 1.6%,#e9bb2f 3.6%,#f9ba3e 5.7%,#fec239 7.8%,#fbd42e 14.0%,#fbd22f 20.2%,#fdbc3e 28.0%,#f1ba37 30.1%,#dbbd28 33.2%,#c5c22a 35.8%,#8acb52 43.1%,#75cc61 47.8%,#75cc61 51.9%,#88cb53 56.6%,#b9c430 62.8%,#d0bf27 65.4%,#e8bb2f 68.5%,#fbbb3e 71.7%,#fdcc32 76.8%,#fad52d 83.1%,#fdcc32 89.3%,#fdbd3d 93.5%,#f4ba3a 95.0%,#dcbd29 97.6%,#c8c129 99.2%,#c1c32c 99.7%)}.c2r38{background:linear-gradient(90deg,#c7c129 0.0%,#dbbd28 1.6%,#f9ba3e 4.7%,#fec338 6.7%,#f8d92c 13.0%,#f7db2a 18.7%,#fec934 26.0%,#fcbb3e 29.6%,#ecba32 32.2%,#d4bf27 35.3%,#b9c430 38.4%,#8fcb4e 44.1%,#80cc59 48.3%,#81cc58 52.4%,#97ca48 57.1%,#cdc028 63.9%,#e6bb2d 67.0%,#fabb3e 70.1%,#fec636 73.2%,#f8da2b 80.5%,#f8d92b 86.7%,#fec437 92.9%,#fbbb3e 95.0%,#dfbc2a 98.1%,#cbc128 99.7%)}.c2r39{background:linear-gradient(90deg,#d0bf27 0.0%,#e9ba30 2.1%,#f8ba3d 3.6%,#fec03a 5.2%,#f7db2b 11.4%,#f5e227 17.1%,#f9d82c 23.4%,#febe3d 30.1%,#f6ba3c 31.7%,#ddbd29 35.3%,#c7c129 37.9%,#99c946 44.1%,#8acb52 48.3%,#8bcb51 52.4%,#a1c840 57.1%,#cdc027 62.8%,#e6bb2d 65.9%,#fbbb3e 69.1%,#fec934 72.7%,#f6df28 80.0%,#f6e028 86.2%,#fdcf30 91.9%,#fdbd3d 95.5%,#f6ba3c 96.6%,#dbbd28 99.2%,#d4bf27 99.7%)}.c2r40{background:linear-gradient(90deg,#d8be28 0.0%,#ebba31 1.6%,#faba3e 3.1%,#fec537 5.2%,#f6e028 11.4%,#f5e825 17.1%,#f7dd2a 23.4%,#fec03b 30.6%,#f9ba3e 32.2%,#dcbd29 36.3%,#c7c129 38.9%,#9fc941 44.7%,#92ca4b 48.8%,#96ca49 53.0%,#adc638 57.6%,#d1bf27 62.3%,#e9ba30 65.4%,#fbbb3e 68.0%,#fec735 71.1%,#f5e327 78.9%,#f5e725 85.2%,#f8d82c 90.9%,#febe3c 96.1%,#f8ba3d 97.1%,#dcbd29 99.7%)}.c2r41{background:linear-gradient(90deg,#debc29 0.0%,#fabb3e 2.6%,#fec636 4.7%,#f5e427 10.9%,#f5ec22 16.6%,#f5e327 22.8%,#fec438 30.6%,#fbbb3e 32.7%,#dabd28 37.4%,#c2c22b 40.5%,#a2c83f 45.7%,#99c946 49.8%,#a1c840 54.0%,#c0c32d 59.2%,#d8be28 62.3%,#ecba31 64.9%,#faba3e 67.0%,#fec239 69.1%,#f5e427 77.4%,#f5ec22 83.6%,#f5e327 89.3%,#fec537 95.5%,#fdbc3e 97.1%,#f3ba3a 98.1%,#e2bc2b 99.7%)}.c2r42{background:linear-gradient(90deg,#e4bb2c 0.0%,#fabb3e 2.1%,#fec736 4.2%,#f5e626 10.4%,#f6f01f 16.1%,#f5e924 22.3%,#fec537 31.2%,#fcbc3e 33.2%,#efba35 35.3%,#dcbd29 37.9%,#c5c22a 41.0%,#a7c73c 46.2%,#a0c841 50.4%,#aac73a 54.5%,#cec027 60.2%,#e6bb2d 63.3%,#fbbb3e 66.5%,#fec835 69.6%,#f5e924 77.9%,#f6f01f 84.1%,#f5e526 89.8%,#fec537 96.1%,#fcbc3e 97.6%,#f3ba39 98.7%,#e8bb2e 99.7%)}.c2r43{background:linear-gradient(90deg,#e8bb2f 0.0%,#f9ba3e 1.6%,#fec338 3.1%,#f5e526 9.3%,#f7f31d 15.1%,#f5ef21 21.3%,#f8d92b 27.5%,#febe3c 33.2%,#f7ba3c 34.8%,#ddbd29 38.4%,#c6c229 41.5%,#abc739 46.7%,#a6c83c 50.9%,#b5c533 55.6%,#d3bf27 60.2%,#eaba30 63.3%,#fbbb3e 65.9%,#fdcb32 69.6%,#f5ea24 76.8%,#f7f41c 83.1%,#f5ec22 88.8%,#fad52d 94.0%,#febe3c 97.6%,#f7ba3d 98.7%,#ecba32 99.7%)}.c2r44{background:linear-gradient(90deg,#ecba32 0.0%,#f7ba3d 1.0%,#febe3c 2.1%,#f6df29 7.3%,#f6f31d 13.0%,#f7f51b 19.2%,#f5e327 26.0%,#fec03a 33.2%,#faba3e 34.8%,#ddbd29 38.9%,#c7c129 42.1%,#b0c636 46.7%,#abc739 50.9%,#b9c430 55.6%,#d3bf27 59.7%,#eaba30 62.8%,#fbbb3e 65.4%,#fdcb32 69.1%,#f5e924 75.8%,#f7f61a 82.0%,#f6f11e 87.7%,#f7db2b 93.5%,#fec03a 97.6%,#fabb3e 98.7%,#efba35 99.7%)}.c2r45{background:linear-gradient(90deg,#eeba34 0.0%,#faba3e 1.0%,#fec438 2.6%,#f5e825 8.8%,#f8f719 14.5%,#f7f51b 20.2%,#f6e028 27.0%,#febf3b 33.7%,#f9ba3d 35.3%,#e0bc2a 38.9%,#c7c129 42.6%,#b1c635 47.2%,#afc637 51.4%,#bfc32d 56.1%,#d6be27 59.7%,#ecba32 62.8%,#fabb3e 64.9%,#fec536 67.5%,#f5eb23 75.8%,#f8f818 82.0%,#f7f31d 87.7%,#f7dd2a 93.5%,#febf3c 98.1%,#f7ba3d 99.2%,#f2ba38 99.7%)}.c2r46{background:linear-gradient(90deg,#f0ba36 0.0%,#fbbb3e 1.0%,#fdcc32 3.6%,#f5ea24 8.8%,#f8f917 14.5%,#f8f719 20.2%,#f5e228 27.0%,#fec13a 33.7%,#f7ba3c 35.8%,#debc29 39.5%,#c6c22a 43.1%,#b2c534 47.8%,#b2c635 51.9%,#c4c22a 56.6%,#dcbd29 60.2%,#f1ba38 63.3%,#fbbb3e 64.9%,#fdce31 69.1%,#f5e924 74.8%,#f9f917 81.5%,#f7f61a 87.2%,#f5e128 92.9%,#fec03b 98.1%,#f9ba3e 99.2%,#f3ba3a 99.7%)}.c2r47{background:linear-gradient(90deg,#f1ba37 0.0%,#fcbb3e 1.0%,#fcd030 4.2%,#f5ea23 8.8%,#f9fa16 14.5%,#f8f818 20.2%,#f5e227 27.0%,#febf3b 34.3%,#f8ba3d 35.8%,#dfbc2a 39.5%,#c7c129 43.1%,#b4c534 47.8%,#b3c534 51.9%,#c6c22a 56.6%,#ddbd29 60.2%,#f2ba39 63.3%,#fcbc3e 64.9%,#fbd22f 69.6%,#f5ec23 75.3%,#f9fa15 82.0%,#f7f61a 87.7%,#f6df29 93.5%,#fec03a 98.1%,#fabb3e 99.2%,#f4ba3a 99.7%)}.c2r48{background:linear-gradient(90deg,#f1ba37 0.0%,#fcbb3e 1.0%,#fcd030 4.2%,#f5ea23 8.8%,#f9fa16 14.5%,#f8f818 20.2%,#f5e327 27.0%,#febf3b 34.3%,#f8ba3d 35.8%,#dfbc2a 39.5%,#c8c129 43.1%,#b4c534 47.8%,#b3c534 51.9%,#c6c22a 56.6%,#ddbd29 60.2%,#f2ba39 63.3%,#fcbc3e 64.9%,#fbd22f 69.6%,#f5ec23 75.3%,#f9fa15 82.0%,#f7f61a 87.7%,#f6df29 93.5%,#fec13a 98.1%,#fabb3e 99.2%,#f4ba3b 99.7%)}.c3r0{background:linear-gradient(90deg,#484cf0 0.0%,#484cf0 16.1%,#4536d4 46.2%,#4538d8 59.2%,#484cf0 84.1%,#484cf0 99.7%)}.c3r1{background:linear-gradient(90deg,#4850f3 0.0%,#4850f3 15.6%,#4538d8 45.7%,#463adb 58.7%,#4850f3 84.1%,#4850f3 99.7%)}.c3r2{background:linear-gradient(90deg,#4854f6 0.0%,#4855f6 15.1%,#473ee2 37.9%,#4639da 51.4%,#4745ea 69.1%,#4757f7 88.8%,#4854f6 99.7%)}.c3r3{background:linear-gradient(90deg,#4759f8 0.0%,#475af9 14.5%,#4743e7 35.8%,#463bdd 50.4%,#4746ea 67.0%,#475af9 87.2%,#4759f8 99.7%)}.c3r4{background:linear-gradient(90deg,#465dfb 0.0%,#465ffb 13.5%,#4849ed 33.2%,#463de0 48.8%,#4745e9 63.3%,#465efb 84.6%,#465ffb 98.1%,#465efb 99.7%)}.c3r5{background:linear-gradient(90deg,#4562fc 0.0%,#4464fd 13.0%,#484ff2 31.2%,#4740e3 47.2%,#4745e9 60.7%,#4561fc 83.1%,#4465fd 96.1%,#4563fc 99.7%)}.c3r6{background:linear-gradient(90deg,#4368fe 0.0%,#426afe 12.5%,#4854f5 30.6%,#4742e7 46.7%,#4847ec 60.2%,#4465fd 81.5%,#416bfe 94.5%,#4368fe 99.7%)}.c3r7{background:linear-gradient(90deg,#406efe 0.0%,#3d71ff 11.9%,#475af9 29.1%,#4746ea 45.7%,#4849ed 58.7%,#4368fe 79.4%,#3c72ff 92.4%,#3f6eff 99.7%)}.c3r8{background:linear-gradient(90deg,#3a74ff 0.0%,#3678fd 10.9%,#4465fd 25.4%,#484aee 43.6%,#484aee 56.1%,#4465fd 74.2%,#3678fe 88.8%,#3974ff 99.7%)}.c3r9{background:linear-gradient(90deg,#337bfd 0.0%,#307ffb 10.9%,#3c71ff 21.8%,#4759f9 34.3%,#484aee 47.8%,#4850f3 59.7%,#416cfe 75.3%,#307efb 88.3%,#327cfc 99.2%,#337bfc 99.7%)}.c3r10{background:linear-gradient(90deg,#2f81fa 0.0%,#2e85f8 10.9%,#347afd 20.8%,#4564fd 31.2%,#484ff2 45.2%,#4850f3 56.6%,#426afe 71.7%,#2f80fa 83.6%,#2e85f8 95.0%,#2f81fa 99.7%)}.c3r11{background:linear-gradient(90deg,#2d87f7 0.0%,#2d8cf3 10.9%,#327cfc 22.8%,#4465fd 32.7%,#4852f4 45.7%,#4854f5 56.6%,#416bfe 70.1%,#2f81fa 80.0%,#2d8cf3 91.4%,#2d88f6 99.7%)}.c3r12{background:linear-gradient(90deg,#2d8ef1 0.0%,#2a92ee 10.9%,#2f82fa 22.8%,#416bfe 32.2%,#4756f7 44.7%,#4756f7 55.6%,#416cfe 68.0%,#2e82f9 77.4%,#2a92ee 89.3%,#2d8ef1 99.7%)}.c3r13{background:linear-gradient(90deg,#2994ed 0.0%,#2699e9 10.9%,#2d89f5 22.3%,#337afd 28.6%,#4466fd 36.3%,#4758f8 47.2%,#475cfa 57.6%,#3e70ff 67.5%,#2e83f9 74.8%,#2798ea 87.2%,#2796eb 98.1%,#2995ec 99.7%)}.c3r14{background:linear-gradient(90deg,#259be8 0.0%,#249fe5 10.4%,#2c90ef 21.8%,#337afd 30.6%,#4467fd 38.4%,#475af9 48.8%,#4562fc 59.2%,#3a74ff 67.0%,#2e83f9 72.7%,#259ce7 85.2%,#249fe5 95.5%,#259be8 99.7%)}.c3r15{background:linear-gradient(90deg,#23a1e4 0.0%,#1fa6e2 10.4%,#2797eb 21.8%,#337afd 32.7%,#4368fe 40.0%,#465efb 49.8%,#4367fd 59.7%,#3479fd 67.0%,#2d8af4 73.2%,#22a2e4 84.6%,#1fa6e2 95.0%,#22a1e4 99.7%)}.c3r16{background:linear-gradient(90deg,#1ea7e1 0.0%,#1aacdd 10.4%,#249ee6 21.3%,#347afd 34.8%,#4368fe 42.1%,#4562fc 51.4%,#3f6eff 60.7%,#2e83f9 68.5%,#21a3e3 81.5%,#19addc 91.9%,#1ea8e1 99.7%)}.c3r17{background:linear-gradient(90deg,#19addc 0.0%,#0fb2d4 8.3%,#1da8e1 19.2%,#2d8bf4 30.6%,#3479fd 36.9%,#426afe 44.1%,#4467fd 53.0%,#3b73ff 60.7%,#2e84f8 67.0%,#21a3e3 78.4%,#11b1d6 88.8%,#11b1d6 95.5%,#18addb 99.7%)}.c3r18{background:linear-gradient(90deg,#0eb2d4 0.0%,#03b7cc 5.2%,#06b5cf 13.0%,#1fa6e2 22.8%,#2d87f7 33.7%,#3677fe 39.5%,#426bfe 47.2%,#3f6eff 56.1%,#2e85f8 65.4%,#21a3e4 75.8%,#0cb3d3 84.6%,#02b7cc 90.3%,#07b5d0 97.6%,#0db3d3 99.7%)}.c3r19{background:linear-gradient(90deg,#02b7cb 0.0%,#04bbc1 7.8%,#02b7cb 16.1%,#1ca9e0 23.9%,#2d89f5 34.8%,#3579fd 41.0%,#3f6eff 49.3%,#3876fe 57.6%,#2e87f7 64.4%,#20a4e3 74.2%,#0fb2d4 80.5%,#01b8ca 84.6%,#04bbc1 92.4%,#01b7ca 99.7%)}.c3r20{background:linear-gradient(90deg,#04bbc1 0.0%,#16bfb7 6.2%,#13beb9 11.4%,#00b9c6 17.7%,#07b5d0 20.8%,#1aacdd 24.9%,#2d8af5 36.3%,#3777fe 44.1%,#3b73ff 51.9%,#2e83f9 61.3%,#2895ec 67.5%,#16afd9 76.3%,#01b8ca 81.0%,#05bcc0 84.6%,#16bfb7 90.3%,#13beb9 95.5%,#04bcc0 99.7%)}.c3r21{background:linear-gradient(90deg,#16bfb7 0.0%,#26c2ad 4.7%,#26c2ad 10.9%,#18bfb6 15.6%,#02bbc3 19.7%,#03b6cd 22.3%,#1babde 27.0%,#2d8af5 37.9%,#3678fe 47.2%,#337afd 55.0%,#2d8ef2 63.3%,#18addb 73.7%,#01b8ca 78.4%,#04bcc1 81.0%,#21c1b1 86.7%,#28c2ab 92.9%,#1ec0b2 98.1%,#18bfb6 99.7%)}.c3r22{background:linear-gradient(90deg,#27c2ac 0.0%,#31c6a0 6.2%,#2ec4a5 13.0%,#1fc0b2 17.7%,#01bac4 22.3%,#03b6cd 24.4%,#1aacdd 28.6%,#2d8cf3 38.9%,#327cfc 47.8%,#2f80fb 55.6%,#2994ed 63.9%,#18aedb 72.2%,#01b8ca 76.3%,#04bbc1 78.4%,#25c2ae 83.6%,#31c6a0 89.8%,#2fc5a2 96.1%,#28c2ab 99.7%)}.c3r23{background:linear-gradient(90deg,#31c5a1 0.0%,#3cc991 6.7%,#37c898 13.0%,#26c2ad 19.2%,#03bbc2 23.9%,#02b7cc 26.0%,#1aacdd 30.1%,#2d8df2 40.0%,#2f80fb 48.8%,#2e87f7 57.1%,#2797eb 63.3%,#17aeda 70.6%,#01b7cb 74.2%,#04bbc1 76.3%,#27c2ac 81.0%,#39c895 88.3%,#3bc992 94.0%,#31c69f 99.7%)}.c3r24{background:linear-gradient(90deg,#3ac994 0.0%,#4ccb83 5.7%,#4bcb83 10.4%,#38c896 16.6%,#24c1ae 21.8%,#02bac4 26.0%,#04b6ce 28.0%,#19addb 31.2%,#2c91ef 40.5%,#2e84f9 48.8%,#2d8af5 56.6%,#1fa5e2 66.5%,#12b1d7 70.1%,#01b7ca 72.7%,#02bbc2 74.2%,#28c2ab 78.9%,#45cb89 87.2%,#4ecc82 92.4%,#42ca8b 97.6%,#3bc992 99.7%)}.c3r25{background:linear-gradient(90deg,#49cb85 0.0%,#5ecd74 4.7%,#61cd71 9.3%,#53cc7d 14.0%,#32c69f 20.8%,#22c1b0 23.9%,#02bac3 27.5%,#02b7cc 29.1%,#19addc 32.7%,#2b91ef 42.1%,#2d88f6 50.4%,#2a93ee 58.7%,#1aacdd 67.0%,#0cb3d2 69.6%,#00b9c8 71.7%,#06bcc0 73.2%,#27c2ac 76.8%,#49cb85 84.1%,#5fcd73 89.3%,#61cd72 94.0%,#51cc7f 98.7%,#4bcb84 99.7%)}.c3r26{background:linear-gradient(90deg,#5dcc75 0.0%,#75cc61 5.2%,#78cc5f 9.3%,#68cd6c 14.0%,#36c899 21.8%,#23c1af 25.4%,#04bbc1 28.6%,#01b8ca 30.1%,#1aacdd 34.3%,#2994ed 42.6%,#2d8bf3 50.4%,#2797eb 58.7%,#19addc 65.9%,#00b8c9 70.1%,#05bcc0 71.7%,#28c2ab 75.3%,#47cb87 81.0%,#6bcd69 86.7%,#79cc5e 91.4%,#73cd63 95.5%,#5ecd74 99.7%)}.c3r27{background:linear-gradient(90deg,#71cd64 0.0%,#89cb52 4.2%,#90ca4d 8.3%,#86cb55 12.5%,#64cd6f 17.7%,#39c994 22.8%,#22c1b0 27.0%,#02bbc3 30.1%,#02b7cb 31.7%,#19addc 35.3%,#2699e9 42.1%,#2c8ff0 49.8%,#2698ea 57.6%,#1aacdd 64.4%,#0bb3d2 67.0%,#00b9c7 69.1%,#08bcbe 70.6%,#28c2ab 73.7%,#42ca8b 78.4%,#79cc5e 85.2%,#8dcb50 89.3%,#8fcb4d 93.5%,#81cc58 97.6%,#73cd62 99.7%)}.c3r28{background:linear-gradient(90deg,#87cb54 0.0%,#a0c941 4.2%,#a7c73c 8.3%,#9dc943 12.5%,#82cc58 16.6%,#39c994 24.4%,#20c1b1 28.6%,#03bbc1 31.2%,#01b7ca 32.7%,#19addc 36.3%,#269ae8 43.1%,#2a93ee 50.9%,#23a0e5 59.2%,#15afd9 64.4%,#01b8c9 67.5%,#05bcc0 69.1%,#26c2ac 72.2%,#43cb8a 76.8%,#84cc56 83.6%,#9dc943 87.7%,#a7c73c 91.9%,#9fc942 96.1%,#8acb52 99.7%)}.c3r29{background:linear-gradient(90deg,#9cc943 0.0%,#b5c533 4.2%,#bbc42f 8.3%,#b2c635 12.5%,#97ca47 16.6%,#56cc7a 22.8%,#38c895 26.0%,#22c1b0 29.6%,#04bbc1 32.2%,#01b8ca 33.7%,#1aacdd 37.9%,#269ae8 45.2%,#2798ea 53.0%,#1da8e0 60.7%,#12b1d6 63.9%,#00b8c9 66.5%,#06bcc0 68.0%,#28c2ab 71.1%,#42ca8b 75.3%,#90ca4d 82.6%,#aec637 86.7%,#bbc430 90.9%,#b7c532 95.0%,#a3c83f 99.2%,#9fc942 99.7%)}.c3r30{background:linear-gradient(90deg,#b0c636 0.0%,#c8c129 4.2%,#cec027 8.8%,#c3c22b 13.0%,#a7c73c 17.1%,#74cd62 21.8%,#3eca8f 26.5%,#22c1af 30.6%,#04bcc1 33.2%,#01b8ca 34.8%,#19acdc 38.9%,#259ce7 46.2%,#259ce7 54.0%,#19addc 61.3%,#00b8c9 65.4%,#06bcbf 67.0%,#29c3aa 70.1%,#40ca8d 73.7%,#8fcb4e 80.5%,#b1c635 84.1%,#c8c129 88.3%,#cec027 92.9%,#c3c22b 97.1%,#b3c534 99.7%)}.c3r31{background:linear-gradient(90deg,#c3c22b 0.0%,#d8be28 4.2%,#debc29 8.8%,#d1bf27 13.5%,#b9c430 17.1%,#94ca4a 20.8%,#44cb89 27.0%,#2ec4a4 30.1%,#17bfb7 32.7%,#04bcc1 34.3%,#01b8ca 35.8%,#19addc 40.0%,#249ee6 47.8%,#22a1e4 55.0%,#16afda 60.7%,#00b8c9 64.4%,#06bcbf 65.9%,#29c3aa 69.1%,#41ca8c 72.7%,#90ca4d 78.9%,#b7c532 82.6%,#d0c027 86.2%,#debd29 90.9%,#d9bd28 95.5%,#c5c22a 99.7%)}.c3r32{background:linear-gradient(90deg,#d3bf27 0.0%,#e7bb2e 4.2%,#ecba32 8.8%,#e1bc2a 13.5%,#cac128 17.1%,#a6c83d 20.8%,#52cc7e 27.0%,#3ac993 29.1%,#22c1b0 32.7%,#04bbc1 35.3%,#01b8ca 36.9%,#19addc 41.0%,#23a1e5 48.3%,#1fa5e2 55.6%,#14b0d8 60.2%,#00b8c9 63.3%,#05bcc0 64.9%,#28c2ab 68.0%,#41ca8c 71.7%,#8ecb4f 77.4%,#b9c430 81.0%,#d0c027 83.6%,#e7bb2e 88.3%,#ecba32 92.9%,#e1bc2a 97.6%,#d5be27 99.7%)}.c3r33{background:linear-gradient(90deg,#e1bc2a 0.0%,#f5ba3b 4.7%,#f7ba3c 9.9%,#e9bb2f 14.5%,#d0bf27 18.2%,#b6c532 20.8%,#86cb55 24.4%,#44cb8a 29.1%,#30c5a1 31.7%,#1ac0b5 34.3%,#03bbc2 36.3%,#01b7cb 37.9%,#18addb 42.1%,#21a3e3 49.3%,#1aabdd 57.1%,#0db3d3 60.2%,#01b8c9 62.3%,#04bcc1 63.9%,#2bc3a8 67.5%,#40ca8d 70.6%,#89cb53 75.8%,#b2c534 78.9%,#cec027 81.5%,#eaba30 85.7%,#f7ba3d 90.3%,#f4ba3a 95.5%,#e3bb2b 99.7%)}.c3r34{background:linear-gradient(90deg,#edba33 0.0%,#fbbb3e 3.1%,#febf3c 9.9%,#f7ba3c 14.0%,#debd29 18.2%,#cbc128 20.2%,#a4c83e 23.4%,#57cc7a 28.6%,#3dc990 30.6%,#1ec0b2 34.8%,#02bbc3 37.4%,#02b7cb 38.9%,#18aedb 43.1%,#1fa6e2 50.4%,#17aeda 57.1%,#00b9c7 61.8%,#07bcbf 63.3%,#2ac3a9 66.5%,#3fca8e 69.6%,#78cc5f 73.7%,#b5c533 77.9%,#cdc028 80.0%,#e7bb2e 83.1%,#f9ba3e 86.7%,#fec03b 91.9%,#fabb3e 97.1%,#efba35 99.7%)}.c3r35{background:linear-gradient(90deg,#f7ba3d 0.0%,#fec03b 2.6%,#fec735 8.8%,#fcbb3e 15.1%,#edba33 17.7%,#d7be28 20.2%,#c0c32d 22.3%,#94ca4a 25.4%,#45cb88 30.6%,#33c79c 32.7%,#21c1b0 35.3%,#04bbc1 37.9%,#01b8c9 39.5%,#17aeda 44.1%,#1da9e0 51.4%,#13b0d7 57.1%,#00b8c8 60.7%,#05bcc0 62.3%,#28c2ab 65.4%,#42ca8b 69.1%,#7fcc5a 73.2%,#b5c533 76.8%,#cfc027 78.9%,#e7bb2e 81.5%,#fabb3e 84.6%,#fec437 88.8%,#fec536 94.5%,#fbbb3e 99.2%,#f9ba3e 99.7%)}.c3r36{background:linear-gradient(90deg,#febe3c 0.0%,#fdce31 6.2%,#feca33 11.9%,#fcbc3e 16.6%,#f0ba36 18.7%,#d8be28 21.3%,#c6c22a 22.8%,#99c946 26.0%,#48cb86 31.2%,#35c79b 33.2%,#1ec0b3 36.3%,#02bbc3 38.9%,#03b6cd 41.0%,#17afda 45.2%,#1aacdd 52.4%,#11b2d5 56.6%,#01b8c9 59.7%,#03bbc1 61.3%,#29c3aa 64.9%,#3eca8f 68.0%,#72cd64 71.7%,#b4c533 75.8%,#cfc027 77.9%,#e9bb2f 80.5%,#fbbb3e 83.1%,#fec934 87.7%,#fdce31 93.5%,#febf3b 99.7%)}.c3r37{background:linear-gradient(90deg,#fec437 0.0%,#fad52e 6.2%,#fcd12f 11.9%,#febd3d 17.7%,#f4ba3a 19.2%,#ddbd29 21.8%,#cbc128 23.4%,#a6c83d 26.0%,#52cc7e 31.2%,#39c994 33.2%,#1fc0b1 36.9%,#04bbc1 39.5%,#02b7cb 41.5%,#16afd9 46.2%,#18aedb 52.4%,#0bb3d2 56.6%,#00b8c8 59.2%,#05bcc0 60.7%,#2ac3a9 64.4%,#40ca8d 67.5%,#75cc61 71.1%,#b1c635 74.8%,#cec027 76.8%,#e5bb2c 78.9%,#faba3e 81.5%,#fec239 83.6%,#fad42e 89.8%,#fbd22f 95.5%,#fec537 99.7%)}.c3r38{background:linear-gradient(90deg,#feca33 0.0%,#f7db2b 5.7%,#f8d92c 11.4%,#fec239 17.7%,#fcbb3e 19.2%,#f0ba36 20.8%,#dbbd28 22.8%,#c8c129 24.4%,#a0c841 27.0%,#53cc7d 31.7%,#3ac994 33.7%,#21c1b1 37.4%,#05bcc0 40.0%,#01b8ca 42.1%,#14b0d8 47.2%,#14b0d8 53.0%,#00b9c7 58.7%,#06bcbf 60.2%,#2bc3a8 63.9%,#41ca8c 67.0%,#77cc60 70.6%,#b4c533 74.2%,#d1bf27 76.3%,#e8bb2f 78.4%,#fabb3e 80.5%,#fec338 82.6%,#f8d92b 88.8%,#f7da2b 94.5%,#fdcb32 99.7%)}.c3r39{background:linear-gradient(90deg,#fcd030 0.0%,#f5e128 5.7%,#f6df29 11.4%,#fec835 17.7%,#fbbb3e 20.2%,#debd29 23.4%,#cac128 24.9%,#a2c840 27.5%,#54cc7d 32.2%,#3ac993 34.3%,#21c1b0 37.9%,#02bbc2 41.0%,#02b7cb 43.1%,#12b1d7 48.3%,#0fb2d4 53.5%,#00b8c8 57.6%,#07bcbf 59.7%,#2bc3a8 63.3%,#41ca8c 66.5%,#78cc5f 70.1%,#b6c532 73.7%,#cdc028 75.3%,#e6bb2d 77.4%,#f9ba3d 79.4%,#fec13a 81.0%,#f7db2a 87.2%,#f5e227 92.9%,#fad52d 98.7%,#fcd12f 99.7%)}.c3r40{background:linear-gradient(90deg,#fad52d 0.0%,#f5e626 5.7%,#f5e427 11.4%,#fdcd32 17.7%,#fdbc3e 20.8%,#efba35 22.3%,#d8be28 24.4%,#c3c22b 26.0%,#99c946 28.6%,#53cc7d 32.7%,#3ac994 34.8%,#21c1b0 38.4%,#03bbc2 41.5%,#02b7cc 44.1%,#10b2d5 49.3%,#0bb4d2 53.5%,#00b9c8 57.1%,#08bcbe 59.2%,#2bc3a8 62.8%,#41ca8c 65.9%,#78cc5f 69.6%,#b6c532 73.2%,#cec027 74.8%,#e7bb2e 76.8%,#fbbb3e 78.9%,#fec834 81.5%,#f5e227 87.7%,#f5e725 93.5%,#f8d92c 99.2%,#f9d62d 99.7%)}.c3r41{background:linear-gradient(90deg,#f8da2b 0.0%,#f5eb23 5.7%,#f5e924 11.4%,#fbd42e 17.1%,#fdbc3d 21.3%,#f5ba3b 22.3%,#dfbc2a 24.4%,#cac128 26.0%,#a1c840 28.6%,#59cc78 32.7%,#3dca8f 34.8%,#21c1b1 38.9%,#03bbc2 42.1%,#02b7cb 44.7%,#0db3d3 49.8%,#01b7cb 55.6%,#04bbc1 58.2%,#2bc3a8 62.3%,#40ca8d 65.4%,#76cc60 69.1%,#b6c532 72.7%,#cdc027 74.2%,#e8bb2e 76.3%,#fbbb3e 78.4%,#fdcc32 81.5%,#f5e725 87.7%,#f5ec22 93.5%,#f6dd29 99.2%,#f7db2a 99.7%)}.c3r42{background:linear-gradient(90deg,#f6de29 0.0%,#f5ee21 5.2%,#f5ee21 10.9%,#f7da2b 16.6%,#fec03b 21.3%,#faba3e 22.3%,#debc29 24.9%,#c9c129 26.5%,#9fc942 29.1%,#57cc7a 33.2%,#3cc991 35.3%,#20c1b1 39.5%,#03bbc2 42.6%,#02b7cc 45.7%,#09b4d1 50.9%,#01bac5 56.6%,#07bcbe 58.2%,#2ac3a9 61.8%,#3eca8f 64.9%,#74cd62 68.5%,#b4c534 72.2%,#ccc028 73.7%,#e7bb2e 75.8%,#fbbb3e 77.9%,#fdcd31 81.0%,#f5e825 86.7%,#f6f01f 92.4%,#f5e626 98.1%,#f6df29 99.7%)}.c3r43{background:linear-gradient(90deg,#f5e128 0.0%,#f6f21e 5.7%,#f6f01f 11.4%,#f7db2a 17.1%,#febf3b 21.8%,#f9ba3e 22.8%,#dcbd29 25.4%,#c6c229 27.0%,#9bc944 29.6%,#54cc7c 33.7%,#3ac993 35.8%,#1ec0b2 40.0%,#05bcc0 42.6%,#01b8c9 45.2%,#07b5d0 50.9%,#01bac5 56.1%,#0bbdbd 58.2%,#2cc4a7 61.8%,#41ca8c 64.9%,#79cc5e 68.5%,#b9c430 72.2%,#d1bf27 73.7%,#e6bb2d 75.3%,#fbbb3e 77.4%,#feca33 80.0%,#f5e825 85.7%,#f7f41c 91.4%,#f5ec22 97.1%,#f5e327 99.7%)}.c3r44{background:linear-gradient(90deg,#f5e427 0.0%,#f7f51b 5.7%,#f6f31d 11.4%,#f6de29 17.1%,#febe3c 22.3%,#f7ba3d 23.4%,#e0bc2a 25.4%,#cbc128 27.0%,#a0c941 29.6%,#58cc79 33.7%,#3cc991 35.8%,#21c1b1 40.0%,#04bcc1 43.1%,#01b7ca 46.2%,#04b6cd 51.9%,#01bac4 56.1%,#0ebebb 58.2%,#2dc4a5 61.8%,#3eca8f 64.4%,#6bcd69 67.5%,#b5c533 71.7%,#cec027 73.2%,#e3bc2b 74.8%,#f9ba3e 76.8%,#fec339 78.4%,#f5e626 84.6%,#f7f61a 90.3%,#f6f21e 96.1%,#f5e526 99.7%)}.c3r45{background:linear-gradient(90deg,#f5e626 0.0%,#f8f719 5.7%,#f7f61a 10.9%,#f5e327 16.6%,#fec03b 22.3%,#faba3e 23.4%,#dcbd29 26.0%,#c6c22a 27.5%,#9ac945 30.1%,#5acc77 33.7%,#3eca8f 35.8%,#23c1af 40.0%,#03bbc1 43.6%,#02b7cb 47.2%,#01b7cb 53.0%,#02bbc3 56.1%,#11beba 58.2%,#2cc4a7 61.3%,#40ca8d 64.4%,#78cc5f 68.0%,#b9c431 71.7%,#d1bf27 73.2%,#e6bb2d 74.8%,#fbbb3e 76.8%,#fdcb32 79.4%,#f5e925 84.6%,#f8f818 90.3%,#f7f51b 95.5%,#f5e725 99.7%)}.c3r46{background:linear-gradient(90deg,#f5e725 0.0%,#f8f917 5.7%,#f8f719 10.9%,#f5e427 16.6%,#fec13a 22.3%,#fbbb3e 23.4%,#debc29 26.0%,#c8c129 27.5%,#9cc943 30.1%,#55cc7c 34.3%,#3bc993 36.3%,#1fc0b2 40.5%,#04bbc1 43.6%,#01b8ca 46.7%,#02b7cb 52.4%,#03bbc2 56.1%,#17bfb6 58.7%,#2fc5a3 61.8%,#42ca8b 64.4%,#71cd64 67.5%,#b2c635 71.1%,#cbc028 72.7%,#e1bc2a 74.2%,#f8ba3d 76.3%,#fec239 77.9%,#f5e825 84.1%,#f8f817 89.8%,#f8f719 95.0%,#f5e924 99.7%)}.c3r47{background:linear-gradient(90deg,#f5e825 0.0%,#f9f916 5.7%,#f8f818 10.9%,#f5e526 16.6%,#fec239 22.3%,#fcbb3e 23.4%,#ecba32 24.9%,#d8be28 26.5%,#c1c32c 28.0%,#94ca4a 30.6%,#56cc7b 34.3%,#3bc992 36.3%,#20c1b1 40.5%,#05bcc0 43.6%,#01b8c9 46.7%,#01b7cb 52.4%,#03bbc1 56.1%,#1dc0b3 59.2%,#39c995 63.3%,#51cc7f 65.4%,#85cb55 68.5%,#bcc42f 71.7%,#d4bf27 73.2%,#e8bb2f 74.8%,#f9ba3e 76.3%,#fec338 77.9%,#f5eb23 84.6%,#f9fa16 90.3%,#f8f719 95.5%,#f5ea24 99.7%)}.c3r48{background:linear-gradient(90deg,#f5e825 0.0%,#f9f916 5.7%,#f8f818 10.9%,#f5e526 16.6%,#fec239 22.3%,#fcbb3e 23.4%,#ecba32 24.9%,#d9be28 26.5%,#c1c32c 28.0%,#94ca4a 30.6%,#56cc7b 34.3%,#3bc992 36.3%,#20c1b1 40.5%,#05bcc0 43.6%,#01b8c9 46.7%,#01b7cb 52.4%,#03bbc1 56.1%,#2dc4a6 61.3%,#3dca90 63.9%,#69cd6a 67.0%,#b4c534 71.1%,#cdc028 72.7%,#e2bc2b 74.2%,#f9ba3e 76.3%,#fec338 77.9%,#f5eb23 84.6%,#f9fa16 90.3%,#f8f719 95.5%,#f5ea24 99.7%)}
</style></head><body>
<svg width="1725" height="657" viewBox="0 0 1725 657">
<defs><filter id="bl1" x="-20%" y="-20%" width="140%" height="140%"><feGaussianBlur stdDeviation="1.5"/></filter><filter id="bl2" x="-20%" y="-20%" width="140%" height="140%"><feGaussianBlur stdDeviation="2.2"/></filter><filter id="bl3" x="-20%" y="-20%" width="140%" height="140%"><feGaussianBlur stdDeviation="3"/></filter><filter id="bl5" x="-10%" y="-10%" width="120%" height="120%"><feGaussianBlur stdDeviation="5"/></filter><filter id="bl8" x="-10%" y="-10%" width="120%" height="120%"><feGaussianBlur stdDeviation="7"/></filter><clipPath id="pa"><rect x="52" y="8" width="664" height="643"/></clipPath><linearGradient id="bgg" gradientUnits="userSpaceOnUse" x1="0" y1="8" x2="0" y2="651"><stop offset="0" stop-color="#f2dcfa"/><stop offset="0.244" stop-color="#efdafa"/><stop offset="0.47" stop-color="#e6d7f8"/><stop offset="0.71" stop-color="#cdcaf5"/><stop offset="0.86" stop-color="#b6c0f2"/><stop offset="1" stop-color="#9eb3ec"/></linearGradient></defs>
<g clip-path="url(#pa)"><rect x="52" y="8" width="664" height="643" fill="#f81414"/><g filter="url(#bl8)"><rect x="52" y="8" width="44" height="131" fill="#ff7474" fill-opacity="0.32"/><rect x="96" y="31" width="44" height="41" fill="#ff7474" fill-opacity="0.30"/><rect x="163" y="23" width="35" height="43" fill="#ff7474" fill-opacity="0.45"/><rect x="233" y="55" width="47" height="29" fill="#ff7474" fill-opacity="0.55"/><rect x="170" y="140" width="44" height="54" fill="#ff7474" fill-opacity="0.35"/><rect x="282" y="135" width="30" height="35" fill="#ff7474" fill-opacity="0.30"/><rect x="104" y="152" width="66" height="48" fill="#ff7474" fill-opacity="0.30"/><rect x="260" y="60" width="25" height="30" fill="#ff7474" fill-opacity="0.30"/><rect x="503" y="8" width="61" height="26" fill="#ff7474" fill-opacity="0.45"/><rect x="620" y="8" width="96" height="52" fill="#ff7474" fill-opacity="0.42"/><rect x="640" y="60" width="76" height="36" fill="#ff7474" fill-opacity="0.30"/><rect x="541" y="125" width="88" height="75" fill="#ff7474" fill-opacity="0.42"/><rect x="423" y="96" width="25" height="30" fill="#ff7474" fill-opacity="0.40"/><rect x="356" y="90" width="19" height="34" fill="#ff7474" fill-opacity="0.35"/><rect x="142" y="482" width="45" height="32" fill="#ff7474" fill-opacity="0.45"/><rect x="71" y="514" width="87" height="93" fill="#ff7474" fill-opacity="0.38"/><rect x="238" y="543" width="39" height="38" fill="#ff7474" fill-opacity="0.35"/><rect x="52" y="488" width="19" height="129" fill="#ff7474" fill-opacity="0.25"/><rect x="157" y="467" width="56" height="42" fill="#ff7474" fill-opacity="0.20"/><rect x="468" y="466" width="42" height="54" fill="#ff7474" fill-opacity="0.40"/><rect x="503" y="520" width="126" height="80" fill="#ff7474" fill-opacity="0.38"/><rect x="590" y="478" width="45" height="42" fill="#ff7474" fill-opacity="0.40"/><rect x="629" y="498" width="64" height="87" fill="#ff7474" fill-opacity="0.38"/><rect x="613" y="600" width="35" height="51" fill="#ff7474" fill-opacity="0.40"/><rect x="661" y="585" width="55" height="66" fill="#ff7474" fill-opacity="0.30"/><polygon points="81,72 140,80 192,110 192,154 150,150 81,120" fill="#ff7474" fill-opacity="0.36"/><polygon points="564,66 600,66 632,120 632,172 590,172 564,130" fill="#ff7474" fill-opacity="0.36"/></g><g filter="url(#bl5)"><path d="M52.0,134.5C53.5,135.6 58.1,138.9 61.1,141.3C64.2,143.7 66.8,146.1 70.3,148.9C73.8,151.7 78.4,154.9 82.4,158.0C86.5,161.1 90.5,164.1 94.6,167.2C98.7,170.2 102.7,173.5 106.8,176.3C110.9,179.1 115.0,181.4 119.0,183.9C123.0,186.4 127.0,189.0 131.1,191.5C135.2,194.0 139.3,196.2 143.3,199.1C147.3,202.0 150.7,205.5 155.2,208.9C159.7,212.3 165.8,215.8 170.4,219.6C175.0,223.4 178.8,227.6 182.6,231.7C186.4,235.8 190.2,239.8 193.3,243.9C196.4,248.0 198.6,252.0 200.9,256.1C203.2,260.2 205.0,263.9 207.0,268.3C209.0,272.8 211.5,277.9 213.0,282.8C214.5,287.7 215.5,292.7 216.2,297.7C216.9,302.7 217.0,308.4 217.2,312.6C217.4,316.9 217.4,318.9 217.2,323.2C217.0,327.4 216.9,333.5 216.2,338.1C215.5,342.7 214.4,346.6 213.0,350.9C211.6,355.1 210.0,359.4 207.7,363.6C205.4,367.9 202.1,372.7 199.1,376.4C196.1,380.1 193.0,382.7 189.5,386.0C186.0,389.3 182.0,392.7 178.0,396.0C174.0,399.3 169.9,402.2 165.3,405.6C160.8,409.0 155.6,413.2 150.7,416.6C145.8,420.0 140.4,423.1 136.1,425.7C131.8,428.3 128.8,429.7 125.1,432.1C121.4,434.5 117.8,437.4 114.2,440.3C110.6,443.2 107.5,445.8 103.2,449.5C98.9,453.2 93.5,458.0 88.6,462.3C83.7,466.6 78.5,471.2 73.9,475.1C69.3,479.1 64.8,483.0 61.1,486.0C57.5,489.0 53.5,492.1 52.0,493.3" fill="none" stroke="#c00000" stroke-width="14" stroke-opacity="0.18"/><path d="M716.0,138.4C714.4,139.5 710.3,142.6 706.5,145.1C702.7,147.6 697.5,150.7 693.0,153.5C688.5,156.3 683.9,159.1 679.7,161.9C675.5,164.7 671.9,167.4 668.0,170.2C664.1,173.0 660.1,175.8 656.2,178.6C652.3,181.4 648.7,184.2 644.5,187.0C640.3,189.8 635.3,192.5 631.1,195.3C626.9,198.1 623.6,200.8 619.4,203.7C615.2,206.6 610.6,209.2 606.0,212.5C601.4,215.8 596.0,219.5 591.5,223.5C587.0,227.5 582.6,232.0 578.7,236.3C574.8,240.6 571.2,244.8 568.0,249.1C564.8,253.4 562.0,257.6 559.5,261.9C557.0,266.2 554.9,270.4 553.1,274.7C551.3,279.0 549.9,283.2 548.8,287.5C547.7,291.8 547.2,296.0 546.7,300.3C546.2,304.6 545.8,308.5 545.6,313.1C545.5,317.7 545.4,324.2 545.8,328.0C546.2,331.8 547.1,333.7 547.9,336.0C548.7,338.3 549.4,339.4 550.6,342.0C551.8,344.6 553.4,348.4 555.2,351.9C557.0,355.4 559.2,359.1 561.5,362.8C563.8,366.5 566.0,370.2 568.8,373.8C571.5,377.4 574.6,381.1 578.0,384.7C581.4,388.3 585.2,392.3 588.9,395.7C592.5,399.1 596.2,401.8 599.9,404.8C603.5,407.8 606.8,410.8 610.8,413.9C614.8,416.9 619.4,420.3 623.6,423.1C627.8,425.9 631.2,427.4 636.0,430.5C640.8,433.6 647.7,438.6 652.5,442.0C657.3,445.4 660.6,448.1 664.7,451.1C668.8,454.1 672.8,456.9 676.9,460.2C681.0,463.5 685.0,467.6 689.1,470.9C693.2,474.2 697.2,477.0 701.2,480.0C705.2,483.0 710.9,487.3 713.4,489.1C715.9,490.9 715.6,490.4 716.0,490.7" fill="none" stroke="#c00000" stroke-width="14" stroke-opacity="0.18"/><path d="M286.4,8.2C286.7,9.1 287.1,12.3 288.3,13.7C289.5,15.1 291.9,15.2 293.7,16.4C295.5,17.6 297.5,19.2 299.2,21.0C300.9,22.8 302.3,25.1 303.8,27.4C305.3,29.7 306.7,32.3 308.4,34.7C310.1,37.1 312.0,39.4 313.8,42.0C315.6,44.6 317.5,47.4 319.3,50.2C321.1,53.0 322.7,56.0 324.8,59.0C326.9,62.0 329.3,65.2 332.0,68.5C334.7,71.8 338.1,75.9 341.0,78.9C343.9,81.9 347.0,84.9 349.5,86.3C352.0,87.7 353.9,87.8 356.0,87.4C358.1,87.1 359.8,85.6 362.3,84.2C364.8,82.8 367.6,80.3 370.8,78.9C374.0,77.5 378.0,76.1 381.5,75.7C385.0,75.3 388.8,75.6 392.0,76.3C395.2,77.0 397.8,78.5 400.7,80.0C403.6,81.5 406.5,84.0 409.2,85.3C411.9,86.6 414.5,88.2 416.6,87.8C418.7,87.4 419.4,86.1 422.0,83.1C424.6,80.1 429.1,73.7 432.0,70.0C434.9,66.3 437.3,63.8 439.7,60.7C442.1,57.6 444.0,54.2 446.1,51.2C448.2,48.2 450.6,45.8 452.5,42.6C454.4,39.4 456.2,35.2 457.8,32.0C459.4,28.8 460.5,25.7 462.1,23.4C463.7,21.1 465.1,19.5 467.4,18.1C469.7,16.7 473.4,16.6 475.9,14.9C478.4,13.2 481.2,9.3 482.3,8.2" fill="none" stroke="#c00000" stroke-width="14" stroke-opacity="0.18"/><path d="M264.7,651.5C266.3,649.3 271.2,642.6 274.3,638.2C277.4,633.8 280.7,629.4 283.1,625.0C285.6,620.6 287.3,615.4 289.0,611.7C290.7,608.0 291.5,605.0 293.5,602.8C295.5,600.6 298.1,600.9 300.8,598.4C303.5,595.9 306.7,591.9 309.7,588.0C312.7,584.1 315.7,579.5 318.6,574.8C321.6,570.1 324.0,564.8 327.4,560.0C330.8,555.2 336.0,549.3 338.9,546.0C341.8,542.7 343.0,541.8 345.0,540.0C347.0,538.2 349.1,536.3 351.0,535.5C352.9,534.7 354.7,534.4 356.5,535.0C358.3,535.6 360.2,537.6 362.0,539.0C363.8,540.4 364.5,542.2 367.0,543.5C369.5,544.8 373.3,546.2 377.0,546.8C380.7,547.4 385.3,547.5 389.0,547.2C392.7,546.9 396.1,546.4 399.0,545.2C401.9,544.1 404.5,541.9 406.6,540.3C408.7,538.7 409.9,536.8 411.5,535.8C413.1,534.8 414.8,534.3 416.5,534.5C418.2,534.7 420.0,535.2 422.0,537.0C424.0,538.8 425.9,542.6 428.4,545.2C430.9,547.8 433.9,548.6 436.9,552.6C439.9,556.6 444.0,565.1 446.5,569.3C449.0,573.5 449.8,574.6 452.0,578.0C454.2,581.4 456.6,586.4 459.6,589.9C462.7,593.4 466.4,596.1 470.3,598.8C474.2,601.5 479.5,603.8 482.8,605.9C486.1,608.0 487.5,608.3 489.9,611.3C492.3,614.3 494.3,619.0 497.0,623.7C499.7,628.5 502.9,635.2 505.9,639.8C508.9,644.4 513.3,649.5 514.8,651.5" fill="none" stroke="#c00000" stroke-width="14" stroke-opacity="0.18"/></g><g filter="url(#bl1)" fill="none" stroke-linecap="round"><path d="M289,14 Q294,21 300,28 T312,45 T323,62" stroke="#ff9a9a" stroke-width="6" stroke-opacity="0.5"/><path d="M438,552 Q447,568 458,587 T481,604 T497,619 T508,638" stroke="#ffc4c4" stroke-width="7" stroke-opacity="0.6"/><circle cx="292" cy="28" r="2.2" fill="#fff" fill-opacity="0.8" stroke="none"/></g><g filter="url(#bl5)"><ellipse cx="345" cy="515" rx="20" ry="24" fill="#c00000" fill-opacity="0.3"/><ellipse cx="440" cy="530" rx="18" ry="32" fill="#c00000" fill-opacity="0.3"/><rect x="470" y="470" width="30" height="58" fill="#ff7474" fill-opacity="0.35"/></g><path d="M396,505 Q410,515 421,535" stroke="#ffa0a0" stroke-width="3" fill="none" stroke-opacity="0.5" filter="url(#bl1)"/><path d="M52.0,134.5C53.5,135.6 58.1,138.9 61.1,141.3C64.2,143.7 66.8,146.1 70.3,148.9C73.8,151.7 78.4,154.9 82.4,158.0C86.5,161.1 90.5,164.1 94.6,167.2C98.7,170.2 102.7,173.5 106.8,176.3C110.9,179.1 115.0,181.4 119.0,183.9C123.0,186.4 127.0,189.0 131.1,191.5C135.2,194.0 139.3,196.2 143.3,199.1C147.3,202.0 150.7,205.5 155.2,208.9C159.7,212.3 165.8,215.8 170.4,219.6C175.0,223.4 178.8,227.6 182.6,231.7C186.4,235.8 190.2,239.8 193.3,243.9C196.4,248.0 198.6,252.0 200.9,256.1C203.2,260.2 205.0,263.9 207.0,268.3C209.0,272.8 211.5,277.9 213.0,282.8C214.5,287.7 215.5,292.7 216.2,297.7C216.9,302.7 217.0,308.4 217.2,312.6C217.4,316.9 217.4,318.9 217.2,323.2C217.0,327.4 216.9,333.5 216.2,338.1C215.5,342.7 214.4,346.6 213.0,350.9C211.6,355.1 210.0,359.4 207.7,363.6C205.4,367.9 202.1,372.7 199.1,376.4C196.1,380.1 193.0,382.7 189.5,386.0C186.0,389.3 182.0,392.7 178.0,396.0C174.0,399.3 169.9,402.2 165.3,405.6C160.8,409.0 155.6,413.2 150.7,416.6C145.8,420.0 140.4,423.1 136.1,425.7C131.8,428.3 128.8,429.7 125.1,432.1C121.4,434.5 117.8,437.4 114.2,440.3C110.6,443.2 107.5,445.8 103.2,449.5C98.9,453.2 93.5,458.0 88.6,462.3C83.7,466.6 78.5,471.2 73.9,475.1C69.3,479.1 64.8,483.0 61.1,486.0C57.5,489.0 53.5,492.1 52.0,493.3L40.0,493.3L40.0,135.0Z" fill="url(#bgg)"/><path d="M716.0,138.4C714.4,139.5 710.3,142.6 706.5,145.1C702.7,147.6 697.5,150.7 693.0,153.5C688.5,156.3 683.9,159.1 679.7,161.9C675.5,164.7 671.9,167.4 668.0,170.2C664.1,173.0 660.1,175.8 656.2,178.6C652.3,181.4 648.7,184.2 644.5,187.0C640.3,189.8 635.3,192.5 631.1,195.3C626.9,198.1 623.6,200.8 619.4,203.7C615.2,206.6 610.6,209.2 606.0,212.5C601.4,215.8 596.0,219.5 591.5,223.5C587.0,227.5 582.6,232.0 578.7,236.3C574.8,240.6 571.2,244.8 568.0,249.1C564.8,253.4 562.0,257.6 559.5,261.9C557.0,266.2 554.9,270.4 553.1,274.7C551.3,279.0 549.9,283.2 548.8,287.5C547.7,291.8 547.2,296.0 546.7,300.3C546.2,304.6 545.8,308.5 545.6,313.1C545.5,317.7 545.4,324.2 545.8,328.0C546.2,331.8 547.1,333.7 547.9,336.0C548.7,338.3 549.4,339.4 550.6,342.0C551.8,344.6 553.4,348.4 555.2,351.9C557.0,355.4 559.2,359.1 561.5,362.8C563.8,366.5 566.0,370.2 568.8,373.8C571.5,377.4 574.6,381.1 578.0,384.7C581.4,388.3 585.2,392.3 588.9,395.7C592.5,399.1 596.2,401.8 599.9,404.8C603.5,407.8 606.8,410.8 610.8,413.9C614.8,416.9 619.4,420.3 623.6,423.1C627.8,425.9 631.2,427.4 636.0,430.5C640.8,433.6 647.7,438.6 652.5,442.0C657.3,445.4 660.6,448.1 664.7,451.1C668.8,454.1 672.8,456.9 676.9,460.2C681.0,463.5 685.0,467.6 689.1,470.9C693.2,474.2 697.2,477.0 701.2,480.0C705.2,483.0 710.9,487.3 713.4,489.1C715.9,490.9 715.6,490.4 716.0,490.7L730.0,491.5L730.0,138.5Z" fill="url(#bgg)"/><path d="M286.4,8.2C286.7,9.1 287.1,12.3 288.3,13.7C289.5,15.1 291.9,15.2 293.7,16.4C295.5,17.6 297.5,19.2 299.2,21.0C300.9,22.8 302.3,25.1 303.8,27.4C305.3,29.7 306.7,32.3 308.4,34.7C310.1,37.1 312.0,39.4 313.8,42.0C315.6,44.6 317.5,47.4 319.3,50.2C321.1,53.0 322.7,56.0 324.8,59.0C326.9,62.0 329.3,65.2 332.0,68.5C334.7,71.8 338.1,75.9 341.0,78.9C343.9,81.9 347.0,84.9 349.5,86.3C352.0,87.7 353.9,87.8 356.0,87.4C358.1,87.1 359.8,85.6 362.3,84.2C364.8,82.8 367.6,80.3 370.8,78.9C374.0,77.5 378.0,76.1 381.5,75.7C385.0,75.3 388.8,75.6 392.0,76.3C395.2,77.0 397.8,78.5 400.7,80.0C403.6,81.5 406.5,84.0 409.2,85.3C411.9,86.6 414.5,88.2 416.6,87.8C418.7,87.4 419.4,86.1 422.0,83.1C424.6,80.1 429.1,73.7 432.0,70.0C434.9,66.3 437.3,63.8 439.7,60.7C442.1,57.6 444.0,54.2 446.1,51.2C448.2,48.2 450.6,45.8 452.5,42.6C454.4,39.4 456.2,35.2 457.8,32.0C459.4,28.8 460.5,25.7 462.1,23.4C463.7,21.1 465.1,19.5 467.4,18.1C469.7,16.7 473.4,16.6 475.9,14.9C478.4,13.2 481.2,9.3 482.3,8.2L482.3,0.0L286.4,0.0Z" fill="url(#bgg)"/><path d="M305.6,8.2C307.0,8.5 310.9,9.1 313.8,10.0C316.7,10.9 320.2,12.2 323.0,13.7C325.8,15.2 327.9,17.4 330.3,19.2C332.7,21.0 334.9,22.7 337.6,24.7C340.3,26.7 343.5,28.9 346.7,31.0C349.9,33.1 352.9,35.6 356.8,37.4C360.7,39.2 366.1,40.9 370.0,41.6C373.9,42.4 376.6,42.0 380.0,41.9C383.4,41.8 387.1,41.4 390.7,41.0C394.2,40.6 397.8,40.5 401.3,39.4C404.9,38.2 408.4,36.1 412.0,34.1C415.6,32.1 419.4,29.8 422.6,27.7C425.8,25.6 428.5,23.4 431.2,21.3C433.9,19.2 436.1,16.5 438.6,14.9C441.1,13.3 443.4,12.6 446.1,11.7C448.8,10.8 452.3,10.2 454.6,9.6C456.9,9.0 459.1,8.4 460.0,8.2L460.0,0.0L305.6,0.0Z" fill="#e01010"/><path d="M264.7,651.5C266.3,649.3 271.2,642.6 274.3,638.2C277.4,633.8 280.7,629.4 283.1,625.0C285.6,620.6 287.3,615.4 289.0,611.7C290.7,608.0 291.5,605.0 293.5,602.8C295.5,600.6 298.1,600.9 300.8,598.4C303.5,595.9 306.7,591.9 309.7,588.0C312.7,584.1 315.7,579.5 318.6,574.8C321.6,570.1 324.0,564.8 327.4,560.0C330.8,555.2 336.0,549.3 338.9,546.0C341.8,542.7 343.0,541.8 345.0,540.0C347.0,538.2 349.1,536.3 351.0,535.5C352.9,534.7 354.7,534.4 356.5,535.0C358.3,535.6 360.2,537.6 362.0,539.0C363.8,540.4 364.5,542.2 367.0,543.5C369.5,544.8 373.3,546.2 377.0,546.8C380.7,547.4 385.3,547.5 389.0,547.2C392.7,546.9 396.1,546.4 399.0,545.2C401.9,544.1 404.5,541.9 406.6,540.3C408.7,538.7 409.9,536.8 411.5,535.8C413.1,534.8 414.8,534.3 416.5,534.5C418.2,534.7 420.0,535.2 422.0,537.0C424.0,538.8 425.9,542.6 428.4,545.2C430.9,547.8 433.9,548.6 436.9,552.6C439.9,556.6 444.0,565.1 446.5,569.3C449.0,573.5 449.8,574.6 452.0,578.0C454.2,581.4 456.6,586.4 459.6,589.9C462.7,593.4 466.4,596.1 470.3,598.8C474.2,601.5 479.5,603.8 482.8,605.9C486.1,608.0 487.5,608.3 489.9,611.3C492.3,614.3 494.3,619.0 497.0,623.7C499.7,628.5 502.9,635.2 505.9,639.8C508.9,644.4 513.3,649.5 514.8,651.5L514.8,660.0L264.7,660.0Z" fill="url(#bgg)"/><path d="M286.1,651.5C287.1,648.0 290.0,636.9 292.0,630.8C294.0,624.6 296.2,618.3 297.9,614.6C299.6,610.9 299.8,610.1 302.3,608.7C304.8,607.4 309.0,607.5 312.7,606.5C316.4,605.5 320.6,604.9 324.5,602.8C328.4,600.7 333.5,596.4 336.3,594.0C339.1,591.6 338.1,591.0 341.3,588.5C344.5,586.0 350.4,581.1 355.6,578.9C360.8,576.7 366.8,575.8 372.4,575.3C378.0,574.8 383.9,575.2 389.1,576.0C394.3,576.8 398.6,578.0 403.4,580.1C408.2,582.2 413.0,585.1 417.8,588.5C422.6,591.9 428.4,598.1 432.1,600.4C435.8,602.7 437.2,601.6 440.0,602.4C442.8,603.2 445.9,604.5 448.9,605.2C451.9,605.9 455.1,605.2 457.8,606.8C460.5,608.4 462.6,609.9 465.0,614.8C467.4,619.7 469.9,630.1 472.0,636.2C474.1,642.3 476.5,649.0 477.4,651.5L477.4,660.0L286.1,660.0Z" fill="#ec1414"/><ellipse cx="378" cy="34" rx="30" ry="7" fill="#ff5050" fill-opacity="0.35" filter="url(#bl3)"/><rect x="371" y="598" width="11" height="50" fill="#ff6a6a" fill-opacity="0.35" filter="url(#bl3)"/><circle cx="380.2" cy="335.2" r="157.4" fill="#e45c5e"/><path d="M383.0,205.8C388.8,205.7 393.8,205.6 400.0,205.8C406.2,206.0 413.6,205.8 420.0,206.9C426.4,208.0 432.2,210.0 438.3,212.4C444.4,214.8 450.4,218.2 456.5,221.5C462.6,224.8 469.3,228.8 474.8,232.5C480.3,236.2 485.1,239.8 489.4,243.4C493.7,247.1 496.8,250.1 500.4,254.4C504.0,258.7 508.3,264.1 511.3,269.0C514.3,273.9 516.5,278.7 518.6,283.6C520.7,288.5 522.2,293.5 524.1,298.2C526.0,302.9 528.5,307.1 530.0,312.0C531.5,316.9 533.0,321.6 533.3,327.4C533.5,333.2 533.0,340.1 531.5,347.0C530.0,353.9 527.1,361.7 524.1,368.5C521.1,375.3 517.8,381.3 513.2,387.7C508.6,394.1 502.6,400.8 496.7,406.8C490.8,412.8 483.3,419.5 478.0,423.5C472.7,427.5 469.4,428.1 465.0,431.0C460.6,433.9 455.4,437.8 451.3,440.6C447.2,443.5 444.2,445.8 440.6,448.1C437.1,450.4 434.3,452.7 430.0,454.5C425.7,456.3 420.0,458.1 415.0,459.0C410.0,459.9 405.8,459.9 400.0,460.0C394.2,460.1 386.2,459.9 380.0,459.5C373.8,459.1 367.8,458.6 362.5,457.5C357.2,456.4 352.6,454.7 348.0,452.9C343.4,451.1 339.7,449.5 334.9,446.9C330.1,444.2 324.4,440.6 319.1,437.0C313.8,433.4 308.5,429.4 303.2,425.1C297.9,420.8 292.3,415.6 287.4,411.3C282.4,407.0 278.1,403.4 273.5,399.4C268.9,395.4 264.0,391.8 259.7,387.5C255.4,383.2 251.1,378.3 247.8,373.7C244.5,369.1 242.2,365.4 239.9,359.8C237.6,354.2 235.1,345.8 234.0,340.0C232.9,334.2 233.3,329.7 233.5,325.0C233.7,320.3 234.4,316.5 235.3,311.9C236.2,307.3 237.2,302.2 239.0,297.3C240.8,292.4 243.3,287.6 246.3,282.7C249.3,277.8 252.9,273.0 257.2,268.1C261.4,263.2 266.6,258.0 271.8,253.4C277.0,248.8 282.5,244.6 288.3,240.7C294.1,236.8 300.1,233.4 306.5,229.7C312.9,226.0 319.7,222.0 326.6,218.7C333.5,215.3 341.6,211.6 348.0,209.6C354.4,207.6 359.2,207.1 365.0,206.5C370.8,205.9 377.2,205.9 383.0,205.8Z" fill="#cd7d7d"/><path d="M286,404 Q320,420 352,452" stroke="#e07070" stroke-width="10" fill="none" stroke-opacity="0.6" filter="url(#bl3)"/><path d="M458,203.5 Q482,216 502,235" stroke="#fff" stroke-width="2.2" fill="none" stroke-opacity="0.85" filter="url(#bl1)"/><path d="M354,229 L410,227 L416,264 L360,267.5Z" fill="#f9e0e0" filter="url(#bl2)"/><path d="M309,289 L369,291 L365,331.5 L309,331.5Z" fill="#f9e0e0" filter="url(#bl2)"/><circle cx="354" cy="362.4" r="4" fill="#fff" filter="url(#bl1)"/></g>
<line x1="1029.6" y1="35.7" x2="1029.6" y2="316.4" stroke="#ebebeb" stroke-width="1.5"/><line x1="1093.7" y1="35.7" x2="1093.7" y2="316.4" stroke="#ebebeb" stroke-width="1.5"/><line x1="1157.8" y1="35.7" x2="1157.8" y2="316.4" stroke="#ebebeb" stroke-width="1.5"/><line x1="1221.9" y1="35.7" x2="1221.9" y2="316.4" stroke="#ebebeb" stroke-width="1.5"/><line x1="1286.0" y1="35.7" x2="1286.0" y2="316.4" stroke="#ebebeb" stroke-width="1.5"/><line x1="1350.0" y1="35.7" x2="1350.0" y2="316.4" stroke="#ebebeb" stroke-width="1.5"/><line x1="1414.1" y1="35.7" x2="1414.1" y2="316.4" stroke="#ebebeb" stroke-width="1.5"/><line x1="1478.2" y1="35.7" x2="1478.2" y2="316.4" stroke="#ebebeb" stroke-width="1.5"/><line x1="1542.3" y1="35.7" x2="1542.3" y2="316.4" stroke="#ebebeb" stroke-width="1.5"/><line x1="965.5" y1="260.3" x2="1606.4" y2="260.3" stroke="#ebebeb" stroke-width="1.5"/><line x1="965.5" y1="204.1" x2="1606.4" y2="204.1" stroke="#ebebeb" stroke-width="1.5"/><line x1="965.5" y1="148.0" x2="1606.4" y2="148.0" stroke="#ebebeb" stroke-width="1.5"/><line x1="965.5" y1="91.8" x2="1606.4" y2="91.8" stroke="#ebebeb" stroke-width="1.5"/><line x1="1029.6" y1="35.7" x2="1029.6" y2="40.2" stroke="#737378" stroke-width="1.8"/><line x1="1029.6" y1="316.4" x2="1029.6" y2="311.9" stroke="#737378" stroke-width="1.8"/><line x1="1093.7" y1="35.7" x2="1093.7" y2="40.2" stroke="#737378" stroke-width="1.8"/><line x1="1093.7" y1="316.4" x2="1093.7" y2="311.9" stroke="#737378" stroke-width="1.8"/><line x1="1157.8" y1="35.7" x2="1157.8" y2="40.2" stroke="#737378" stroke-width="1.8"/><line x1="1157.8" y1="316.4" x2="1157.8" y2="311.9" stroke="#737378" stroke-width="1.8"/><line x1="1221.9" y1="35.7" x2="1221.9" y2="40.2" stroke="#737378" stroke-width="1.8"/><line x1="1221.9" y1="316.4" x2="1221.9" y2="311.9" stroke="#737378" stroke-width="1.8"/><line x1="1286.0" y1="35.7" x2="1286.0" y2="40.2" stroke="#737378" stroke-width="1.8"/><line x1="1286.0" y1="316.4" x2="1286.0" y2="311.9" stroke="#737378" stroke-width="1.8"/><line x1="1350.0" y1="35.7" x2="1350.0" y2="40.2" stroke="#737378" stroke-width="1.8"/><line x1="1350.0" y1="316.4" x2="1350.0" y2="311.9" stroke="#737378" stroke-width="1.8"/><line x1="1414.1" y1="35.7" x2="1414.1" y2="40.2" stroke="#737378" stroke-width="1.8"/><line x1="1414.1" y1="316.4" x2="1414.1" y2="311.9" stroke="#737378" stroke-width="1.8"/><line x1="1478.2" y1="35.7" x2="1478.2" y2="40.2" stroke="#737378" stroke-width="1.8"/><line x1="1478.2" y1="316.4" x2="1478.2" y2="311.9" stroke="#737378" stroke-width="1.8"/><line x1="1542.3" y1="35.7" x2="1542.3" y2="40.2" stroke="#737378" stroke-width="1.8"/><line x1="1542.3" y1="316.4" x2="1542.3" y2="311.9" stroke="#737378" stroke-width="1.8"/><line x1="965.5" y1="35.7" x2="1606.4" y2="35.7" stroke="#737378" stroke-width="2.3" stroke-linecap="round"/><line x1="965.5" y1="316.4" x2="1606.4" y2="316.4" stroke="#737378" stroke-width="2.3" stroke-linecap="round"/><line x1="965.5" y1="35.7" x2="965.5" y2="316.4" stroke="#667070" stroke-width="2.3" stroke-dasharray="10 9.63" stroke-dashoffset="5.9"/><line x1="1181.8" y1="35.7" x2="1181.8" y2="316.4" stroke="#667070" stroke-width="2.3" stroke-dasharray="10 9.63" stroke-dashoffset="5.9"/><line x1="1394.0" y1="35.7" x2="1394.0" y2="316.4" stroke="#667070" stroke-width="2.3" stroke-dasharray="10 9.63" stroke-dashoffset="5.9"/><line x1="1606.3" y1="35.7" x2="1606.3" y2="316.4" stroke="#667070" stroke-width="2.3" stroke-dasharray="10 9.63" stroke-dashoffset="5.9"/><polyline points="965.5,316.4 970.9,311.8 976.3,307.2 981.7,302.6 987.0,298.1 992.4,293.5 997.8,289.0 1003.2,284.5 1008.6,280.0 1014.0,275.6 1019.4,271.1 1024.7,266.7 1030.1,262.3 1035.5,257.9 1040.9,253.5 1046.3,249.2 1051.7,244.9 1057.1,240.5 1062.4,236.3 1067.8,232.0 1073.2,227.7 1078.6,223.5 1084.0,219.3 1089.4,215.1 1094.8,211.0 1100.1,206.8 1105.5,202.7 1110.9,198.6 1116.3,194.6 1121.7,190.6 1127.1,186.6 1132.5,182.6 1137.8,178.7 1143.2,174.8 1148.6,170.9 1154.0,167.1 1159.4,163.3 1164.8,159.5 1170.2,155.8 1175.5,152.1 1180.9,148.5 1186.3,144.9 1191.7,141.3 1197.1,137.8 1202.5,134.4 1207.9,131.0 1213.2,127.6 1218.6,124.3 1224.0,121.1 1229.4,117.9 1234.8,114.8 1240.2,111.7 1245.6,108.6 1250.9,105.7 1256.3,102.8 1261.7,99.9 1267.1,97.2 1272.5,94.5 1277.9,91.8 1283.3,89.2 1288.6,86.7 1294.0,84.3 1299.4,81.9 1304.8,79.6 1310.2,77.4 1315.6,75.3 1321.0,73.2 1326.3,71.2 1331.7,69.3 1337.1,67.5 1342.5,65.7 1347.9,64.1 1353.3,62.5 1358.7,61.0 1364.0,59.5 1369.4,58.2 1374.8,56.9 1380.2,55.8 1385.6,54.7 1391.0,53.7 1396.4,52.8 1401.7,51.9 1407.1,51.2 1412.5,50.5 1417.9,50.0 1423.3,49.5 1428.7,49.1 1434.1,48.8 1439.4,48.6 1444.8,48.4 1450.2,48.4 1455.6,48.4 1461.0,48.5 1466.4,48.7 1471.8,49.0 1477.1,49.4 1482.5,49.8 1487.9,50.4 1493.3,51.0 1498.7,51.7 1504.1,52.4 1509.5,53.3 1514.8,54.2 1520.2,55.2 1525.6,56.2 1531.0,57.4 1536.4,58.6 1541.8,59.8 1547.2,61.1 1552.5,62.5 1557.9,63.9 1563.3,65.4 1568.7,66.9 1574.1,68.5 1579.5,70.2 1584.9,71.8 1590.2,73.5 1595.6,75.3 1601.0,77.1 1606.4,78.9" fill="none" stroke="#4590d0" stroke-width="2.3" stroke-linejoin="round"/><polyline points="965.5,316.4 970.9,314.0 976.3,311.7 981.7,309.3 987.0,306.9 992.4,304.5 997.8,302.1 1003.2,299.7 1008.6,297.3 1014.0,294.9 1019.4,292.6 1024.7,290.2 1030.1,287.8 1035.5,285.5 1040.9,283.1 1046.3,280.8 1051.7,278.5 1057.1,276.1 1062.4,273.8 1067.8,271.6 1073.2,269.3 1078.6,267.0 1084.0,264.8 1089.4,262.5 1094.8,260.3 1100.1,258.2 1105.5,256.0 1110.9,253.8 1116.3,251.7 1121.7,249.6 1127.1,247.5 1132.5,245.5 1137.8,243.4 1143.2,241.4 1148.6,239.4 1154.0,237.5 1159.4,235.5 1164.8,233.6 1170.2,231.8 1175.5,229.9 1180.9,228.1 1186.3,226.3 1191.7,224.5 1197.1,222.8 1202.5,221.1 1207.9,219.4 1213.2,217.8 1218.6,216.2 1224.0,214.6 1229.4,213.1 1234.8,211.6 1240.2,210.1 1245.6,208.7 1250.9,207.3 1256.3,205.9 1261.7,204.6 1267.1,203.3 1272.5,202.0 1277.9,200.8 1283.3,199.6 1288.6,198.5 1294.0,197.3 1299.4,196.3 1304.8,195.2 1310.2,194.2 1315.6,193.3 1321.0,192.4 1326.3,191.5 1331.7,190.6 1337.1,189.8 1342.5,189.0 1347.9,188.3 1353.3,187.6 1358.7,187.0 1364.0,186.4 1369.4,185.8 1374.8,185.3 1380.2,184.8 1385.6,184.3 1391.0,183.9 1396.4,183.5 1401.7,183.2 1407.1,182.9 1412.5,182.7 1417.9,182.4 1423.3,182.3 1428.7,182.1 1434.1,182.0 1439.4,182.0 1444.8,182.0 1450.2,182.0 1455.6,182.1 1461.0,182.2 1466.4,182.3 1471.8,182.5 1477.1,182.7 1482.5,183.0 1487.9,183.3 1493.3,183.6 1498.7,184.0 1504.1,184.4 1509.5,184.9 1514.8,185.3 1520.2,185.9 1525.6,186.4 1531.0,187.1 1536.4,187.7 1541.8,188.4 1547.2,189.1 1552.5,189.9 1557.9,190.6 1563.3,191.5 1568.7,192.3 1574.1,193.2 1579.5,194.2 1584.9,195.2 1590.2,196.2 1595.6,197.2 1601.0,198.3 1606.4,199.4" fill="none" stroke="#f8c15c" stroke-width="2.3" stroke-linejoin="round"/><rect x="985.5" y="53.7" width="240" height="50.2" fill="#fff" stroke="#77777c" stroke-width="1.8"/><line x1="991" y1="66.5" x2="1023.7" y2="66.5" stroke="#4590d0" stroke-width="2.3"/><line x1="991" y1="91.2" x2="1023.7" y2="91.2" stroke="#f8c15c" stroke-width="2.3"/><text x="1029" y="73.3" font-family="Liberation Serif, serif" font-size="21.8">axis aligned</text><text x="1029.7" y="97.6" font-family="Liberation Serif, serif" font-size="21.8">transverse aligned</text><text x="958.8" y="326.7" font-family="Liberation Serif, serif" font-size="26.5" text-anchor="end">0</text><text x="958.8" y="270.6" font-family="Liberation Serif, serif" font-size="26.5" text-anchor="end">0.01</text><text x="958.8" y="214.4" font-family="Liberation Serif, serif" font-size="26.5" text-anchor="end">0.02</text><text x="958.8" y="158.3" font-family="Liberation Serif, serif" font-size="26.5" text-anchor="end">0.03</text><text x="958.8" y="102.1" font-family="Liberation Serif, serif" font-size="26.5" text-anchor="end">0.04</text><text x="958.8" y="46.0" font-family="Liberation Serif, serif" font-size="26.5" text-anchor="end">0.05</text><text x="962.5" y="359.5" font-family="Liberation Serif, serif" font-size="26.5" text-anchor="middle">0</text><text x="1090.7" y="359.5" font-family="Liberation Serif, serif" font-size="26.5" text-anchor="middle">0.2</text><text x="1218.9" y="359.5" font-family="Liberation Serif, serif" font-size="26.5" text-anchor="middle">0.4</text><text x="1347.0" y="359.5" font-family="Liberation Serif, serif" font-size="26.5" text-anchor="middle">0.6</text><text x="1475.2" y="359.5" font-family="Liberation Serif, serif" font-size="26.5" text-anchor="middle">0.8</text><text x="1603.4" y="359.5" font-family="Liberation Serif, serif" font-size="26.5" text-anchor="middle">1</text><text x="1281.5" y="403.5" font-family="Liberation Serif, serif" font-size="26.3" text-anchor="middle">separation (fraction of aperture)</text><text transform="translate(878.5,174) rotate(-90)" font-family="Liberation Serif, serif" font-size="26.6" text-anchor="middle">transverse torque</text>
<text transform="translate(-2.2,47.6) scale(0.93,1)" font-family="Liberation Serif, serif" font-weight="bold" font-size="72">a</text><text transform="translate(779.2,48) scale(1.07,1)" font-family="Liberation Serif, serif" font-weight="bold" font-size="71">b</text>
</svg>
<div class="ring" style="left:856.0px;top:442.5px;width:213.0px;height:213.0px"></div><div class="disk" style="left:866.2px;top:452.7px;width:192.6px;height:192.6px"><div class="blr"><div class="c0r0" style="top:0px"></div><div class="c0r1" style="top:2px"></div><div class="c0r2" style="top:4px"></div><div class="c0r3" style="top:6px"></div><div class="c0r4" style="top:8px"></div><div class="c0r5" style="top:10px"></div><div class="c0r6" style="top:12px"></div><div class="c0r7" style="top:14px"></div><div class="c0r8" style="top:16px"></div><div class="c0r9" style="top:18px"></div><div class="c0r10" style="top:20px"></div><div class="c0r11" style="top:22px"></div><div class="c0r12" style="top:24px"></div><div class="c0r13" style="top:26px"></div><div class="c0r14" style="top:28px"></div><div class="c0r15" style="top:30px"></div><div class="c0r16" style="top:32px"></div><div class="c0r17" style="top:34px"></div><div class="c0r18" style="top:36px"></div><div class="c0r19" style="top:38px"></div><div class="c0r20" style="top:40px"></div><div class="c0r21" style="top:42px"></div><div class="c0r22" style="top:44px"></div><div class="c0r23" style="top:46px"></div><div class="c0r24" style="top:48px"></div><div class="c0r25" style="top:50px"></div><div class="c0r26" style="top:52px"></div><div class="c0r27" style="top:54px"></div><div class="c0r28" style="top:56px"></div><div class="c0r29" style="top:58px"></div><div class="c0r30" style="top:60px"></div><div class="c0r31" style="top:62px"></div><div class="c0r32" style="top:64px"></div><div class="c0r33" style="top:66px"></div><div class="c0r34" style="top:68px"></div><div class="c0r35" style="top:70px"></div><div class="c0r36" style="top:72px"></div><div class="c0r37" style="top:74px"></div><div class="c0r38" style="top:76px"></div><div class="c0r39" style="top:78px"></div><div class="c0r40" style="top:80px"></div><div class="c0r41" style="top:82px"></div><div class="c0r42" style="top:84px"></div><div class="c0r43" style="top:86px"></div><div class="c0r44" style="top:88px"></div><div class="c0r45" style="top:90px"></div><div class="c0r46" style="top:92px"></div><div class="c0r47" style="top:94px"></div><div class="c0r48" style="top:96px"></div><div class="c0r47" style="top:98px"></div><div class="c0r46" style="top:100px"></div><div class="c0r45" style="top:102px"></div><div class="c0r44" style="top:104px"></div><div class="c0r43" style="top:106px"></div><div class="c0r42" style="top:108px"></div><div class="c0r41" style="top:110px"></div><div class="c0r40" style="top:112px"></div><div class="c0r39" style="top:114px"></div><div class="c0r38" style="top:116px"></div><div class="c0r37" style="top:118px"></div><div class="c0r36" style="top:120px"></div><div class="c0r35" style="top:122px"></div><div class="c0r34" style="top:124px"></div><div class="c0r33" style="top:126px"></div><div class="c0r32" style="top:128px"></div><div class="c0r31" style="top:130px"></div><div class="c0r30" style="top:132px"></div><div class="c0r29" style="top:134px"></div><div class="c0r28" style="top:136px"></div><div class="c0r27" style="top:138px"></div><div class="c0r26" style="top:140px"></div><div class="c0r25" style="top:142px"></div><div class="c0r24" style="top:144px"></div><div class="c0r23" style="top:146px"></div><div class="c0r22" style="top:148px"></div><div class="c0r21" style="top:150px"></div><div class="c0r20" style="top:152px"></div><div class="c0r19" style="top:154px"></div><div class="c0r18" style="top:156px"></div><div class="c0r17" style="top:158px"></div><div class="c0r16" style="top:160px"></div><div class="c0r15" style="top:162px"></div><div class="c0r14" style="top:164px"></div><div class="c0r13" style="top:166px"></div><div class="c0r12" style="top:168px"></div><div class="c0r11" style="top:170px"></div><div class="c0r10" style="top:172px"></div><div class="c0r9" style="top:174px"></div><div class="c0r8" style="top:176px"></div><div class="c0r7" style="top:178px"></div><div class="c0r6" style="top:180px"></div><div class="c0r5" style="top:182px"></div><div class="c0r4" style="top:184px"></div><div class="c0r3" style="top:186px"></div><div class="c0r2" style="top:188px"></div><div class="c0r1" style="top:190px"></div><div class="c0r0" style="top:192px"></div></div></div><div class="ring" style="left:1073.5px;top:442.5px;width:213.0px;height:213.0px"></div><div class="disk" style="left:1083.7px;top:452.7px;width:192.6px;height:192.6px"><div class="blr"><div class="c1r0" style="top:0px"></div><div class="c1r1" style="top:2px"></div><div class="c1r2" style="top:4px"></div><div class="c1r3" style="top:6px"></div><div class="c1r4" style="top:8px"></div><div class="c1r5" style="top:10px"></div><div class="c1r6" style="top:12px"></div><div class="c1r7" style="top:14px"></div><div class="c1r8" style="top:16px"></div><div class="c1r9" style="top:18px"></div><div class="c1r10" style="top:20px"></div><div class="c1r11" style="top:22px"></div><div class="c1r12" style="top:24px"></div><div class="c1r13" style="top:26px"></div><div class="c1r14" style="top:28px"></div><div class="c1r15" style="top:30px"></div><div class="c1r16" style="top:32px"></div><div class="c1r17" style="top:34px"></div><div class="c1r18" style="top:36px"></div><div class="c1r19" style="top:38px"></div><div class="c1r20" style="top:40px"></div><div class="c1r21" style="top:42px"></div><div class="c1r22" style="top:44px"></div><div class="c1r23" style="top:46px"></div><div class="c1r24" style="top:48px"></div><div class="c1r25" style="top:50px"></div><div class="c1r26" style="top:52px"></div><div class="c1r27" style="top:54px"></div><div class="c1r28" style="top:56px"></div><div class="c1r29" style="top:58px"></div><div class="c1r30" style="top:60px"></div><div class="c1r31" style="top:62px"></div><div class="c1r32" style="top:64px"></div><div class="c1r33" style="top:66px"></div><div class="c1r34" style="top:68px"></div><div class="c1r35" style="top:70px"></div><div class="c1r36" style="top:72px"></div><div class="c1r37" style="top:74px"></div><div class="c1r38" style="top:76px"></div><div class="c1r39" style="top:78px"></div><div class="c1r40" style="top:80px"></div><div class="c1r41" style="top:82px"></div><div class="c1r42" style="top:84px"></div><div class="c1r43" style="top:86px"></div><div class="c1r44" style="top:88px"></div><div class="c1r45" style="top:90px"></div><div class="c1r46" style="top:92px"></div><div class="c1r47" style="top:94px"></div><div class="c1r48" style="top:96px"></div><div class="c1r47" style="top:98px"></div><div class="c1r46" style="top:100px"></div><div class="c1r45" style="top:102px"></div><div class="c1r44" style="top:104px"></div><div class="c1r43" style="top:106px"></div><div class="c1r42" style="top:108px"></div><div class="c1r41" style="top:110px"></div><div class="c1r40" style="top:112px"></div><div class="c1r39" style="top:114px"></div><div class="c1r38" style="top:116px"></div><div class="c1r37" style="top:118px"></div><div class="c1r36" style="top:120px"></div><div class="c1r35" style="top:122px"></div><div class="c1r34" style="top:124px"></div><div class="c1r33" style="top:126px"></div><div class="c1r32" style="top:128px"></div><div class="c1r31" style="top:130px"></div><div class="c1r30" style="top:132px"></div><div class="c1r29" style="top:134px"></div><div class="c1r28" style="top:136px"></div><div class="c1r27" style="top:138px"></div><div class="c1r26" style="top:140px"></div><div class="c1r25" style="top:142px"></div><div class="c1r24" style="top:144px"></div><div class="c1r23" style="top:146px"></div><div class="c1r22" style="top:148px"></div><div class="c1r21" style="top:150px"></div><div class="c1r20" style="top:152px"></div><div class="c1r19" style="top:154px"></div><div class="c1r18" style="top:156px"></div><div class="c1r17" style="top:158px"></div><div class="c1r16" style="top:160px"></div><div class="c1r15" style="top:162px"></div><div class="c1r14" style="top:164px"></div><div class="c1r13" style="top:166px"></div><div class="c1r12" style="top:168px"></div><div class="c1r11" style="top:170px"></div><div class="c1r10" style="top:172px"></div><div class="c1r9" style="top:174px"></div><div class="c1r8" style="top:176px"></div><div class="c1r7" style="top:178px"></div><div class="c1r6" style="top:180px"></div><div class="c1r5" style="top:182px"></div><div class="c1r4" style="top:184px"></div><div class="c1r3" style="top:186px"></div><div class="c1r2" style="top:188px"></div><div class="c1r1" style="top:190px"></div><div class="c1r0" style="top:192px"></div></div></div><div class="ring" style="left:1290.8px;top:442.5px;width:213.0px;height:213.0px"></div><div class="disk" style="left:1301.0px;top:452.7px;width:192.6px;height:192.6px"><div class="blr"><div class="c2r0" style="top:0px"></div><div class="c2r1" style="top:2px"></div><div class="c2r2" style="top:4px"></div><div class="c2r3" style="top:6px"></div><div class="c2r4" style="top:8px"></div><div class="c2r5" style="top:10px"></div><div class="c2r6" style="top:12px"></div><div class="c2r7" style="top:14px"></div><div class="c2r8" style="top:16px"></div><div class="c2r9" style="top:18px"></div><div class="c2r10" style="top:20px"></div><div class="c2r11" style="top:22px"></div><div class="c2r12" style="top:24px"></div><div class="c2r13" style="top:26px"></div><div class="c2r14" style="top:28px"></div><div class="c2r15" style="top:30px"></div><div class="c2r16" style="top:32px"></div><div class="c2r17" style="top:34px"></div><div class="c2r18" style="top:36px"></div><div class="c2r19" style="top:38px"></div><div class="c2r20" style="top:40px"></div><div class="c2r21" style="top:42px"></div><div class="c2r22" style="top:44px"></div><div class="c2r23" style="top:46px"></div><div class="c2r24" style="top:48px"></div><div class="c2r25" style="top:50px"></div><div class="c2r26" style="top:52px"></div><div class="c2r27" style="top:54px"></div><div class="c2r28" style="top:56px"></div><div class="c2r29" style="top:58px"></div><div class="c2r30" style="top:60px"></div><div class="c2r31" style="top:62px"></div><div class="c2r32" style="top:64px"></div><div class="c2r33" style="top:66px"></div><div class="c2r34" style="top:68px"></div><div class="c2r35" style="top:70px"></div><div class="c2r36" style="top:72px"></div><div class="c2r37" style="top:74px"></div><div class="c2r38" style="top:76px"></div><div class="c2r39" style="top:78px"></div><div class="c2r40" style="top:80px"></div><div class="c2r41" style="top:82px"></div><div class="c2r42" style="top:84px"></div><div class="c2r43" style="top:86px"></div><div class="c2r44" style="top:88px"></div><div class="c2r45" style="top:90px"></div><div class="c2r46" style="top:92px"></div><div class="c2r47" style="top:94px"></div><div class="c2r48" style="top:96px"></div><div class="c2r47" style="top:98px"></div><div class="c2r46" style="top:100px"></div><div class="c2r45" style="top:102px"></div><div class="c2r44" style="top:104px"></div><div class="c2r43" style="top:106px"></div><div class="c2r42" style="top:108px"></div><div class="c2r41" style="top:110px"></div><div class="c2r40" style="top:112px"></div><div class="c2r39" style="top:114px"></div><div class="c2r38" style="top:116px"></div><div class="c2r37" style="top:118px"></div><div class="c2r36" style="top:120px"></div><div class="c2r35" style="top:122px"></div><div class="c2r34" style="top:124px"></div><div class="c2r33" style="top:126px"></div><div class="c2r32" style="top:128px"></div><div class="c2r31" style="top:130px"></div><div class="c2r30" style="top:132px"></div><div class="c2r29" style="top:134px"></div><div class="c2r28" style="top:136px"></div><div class="c2r27" style="top:138px"></div><div class="c2r26" style="top:140px"></div><div class="c2r25" style="top:142px"></div><div class="c2r24" style="top:144px"></div><div class="c2r23" style="top:146px"></div><div class="c2r22" style="top:148px"></div><div class="c2r21" style="top:150px"></div><div class="c2r20" style="top:152px"></div><div class="c2r19" style="top:154px"></div><div class="c2r18" style="top:156px"></div><div class="c2r17" style="top:158px"></div><div class="c2r16" style="top:160px"></div><div class="c2r15" style="top:162px"></div><div class="c2r14" style="top:164px"></div><div class="c2r13" style="top:166px"></div><div class="c2r12" style="top:168px"></div><div class="c2r11" style="top:170px"></div><div class="c2r10" style="top:172px"></div><div class="c2r9" style="top:174px"></div><div class="c2r8" style="top:176px"></div><div class="c2r7" style="top:178px"></div><div class="c2r6" style="top:180px"></div><div class="c2r5" style="top:182px"></div><div class="c2r4" style="top:184px"></div><div class="c2r3" style="top:186px"></div><div class="c2r2" style="top:188px"></div><div class="c2r1" style="top:190px"></div><div class="c2r0" style="top:192px"></div></div></div><div class="ring" style="left:1508.5px;top:442.5px;width:213.0px;height:213.0px"></div><div class="disk" style="left:1518.7px;top:452.7px;width:192.6px;height:192.6px"><div class="blr"><div class="c3r0" style="top:0px"></div><div class="c3r1" style="top:2px"></div><div class="c3r2" style="top:4px"></div><div class="c3r3" style="top:6px"></div><div class="c3r4" style="top:8px"></div><div class="c3r5" style="top:10px"></div><div class="c3r6" style="top:12px"></div><div class="c3r7" style="top:14px"></div><div class="c3r8" style="top:16px"></div><div class="c3r9" style="top:18px"></div><div class="c3r10" style="top:20px"></div><div class="c3r11" style="top:22px"></div><div class="c3r12" style="top:24px"></div><div class="c3r13" style="top:26px"></div><div class="c3r14" style="top:28px"></div><div class="c3r15" style="top:30px"></div><div class="c3r16" style="top:32px"></div><div class="c3r17" style="top:34px"></div><div class="c3r18" style="top:36px"></div><div class="c3r19" style="top:38px"></div><div class="c3r20" style="top:40px"></div><div class="c3r21" style="top:42px"></div><div class="c3r22" style="top:44px"></div><div class="c3r23" style="top:46px"></div><div class="c3r24" style="top:48px"></div><div class="c3r25" style="top:50px"></div><div class="c3r26" style="top:52px"></div><div class="c3r27" style="top:54px"></div><div class="c3r28" style="top:56px"></div><div class="c3r29" style="top:58px"></div><div class="c3r30" style="top:60px"></div><div class="c3r31" style="top:62px"></div><div class="c3r32" style="top:64px"></div><div class="c3r33" style="top:66px"></div><div class="c3r34" style="top:68px"></div><div class="c3r35" style="top:70px"></div><div class="c3r36" style="top:72px"></div><div class="c3r37" style="top:74px"></div><div class="c3r38" style="top:76px"></div><div class="c3r39" style="top:78px"></div><div class="c3r40" style="top:80px"></div><div class="c3r41" style="top:82px"></div><div class="c3r42" style="top:84px"></div><div class="c3r43" style="top:86px"></div><div class="c3r44" style="top:88px"></div><div class="c3r45" style="top:90px"></div><div class="c3r46" style="top:92px"></div><div class="c3r47" style="top:94px"></div><div class="c3r48" style="top:96px"></div><div class="c3r47" style="top:98px"></div><div class="c3r46" style="top:100px"></div><div class="c3r45" style="top:102px"></div><div class="c3r44" style="top:104px"></div><div class="c3r43" style="top:106px"></div><div class="c3r42" style="top:108px"></div><div class="c3r41" style="top:110px"></div><div class="c3r40" style="top:112px"></div><div class="c3r39" style="top:114px"></div><div class="c3r38" style="top:116px"></div><div class="c3r37" style="top:118px"></div><div class="c3r36" style="top:120px"></div><div class="c3r35" style="top:122px"></div><div class="c3r34" style="top:124px"></div><div class="c3r33" style="top:126px"></div><div class="c3r32" style="top:128px"></div><div class="c3r31" style="top:130px"></div><div class="c3r30" style="top:132px"></div><div class="c3r29" style="top:134px"></div><div class="c3r28" style="top:136px"></div><div class="c3r27" style="top:138px"></div><div class="c3r26" style="top:140px"></div><div class="c3r25" style="top:142px"></div><div class="c3r24" style="top:144px"></div><div class="c3r23" style="top:146px"></div><div class="c3r22" style="top:148px"></div><div class="c3r21" style="top:150px"></div><div class="c3r20" style="top:152px"></div><div class="c3r19" style="top:154px"></div><div class="c3r18" style="top:156px"></div><div class="c3r17" style="top:158px"></div><div class="c3r16" style="top:160px"></div><div class="c3r15" style="top:162px"></div><div class="c3r14" style="top:164px"></div><div class="c3r13" style="top:166px"></div><div class="c3r12" style="top:168px"></div><div class="c3r11" style="top:170px"></div><div class="c3r10" style="top:172px"></div><div class="c3r9" style="top:174px"></div><div class="c3r8" style="top:176px"></div><div class="c3r7" style="top:178px"></div><div class="c3r6" style="top:180px"></div><div class="c3r5" style="top:182px"></div><div class="c3r4" style="top:184px"></div><div class="c3r3" style="top:186px"></div><div class="c3r2" style="top:188px"></div><div class="c3r1" style="top:190px"></div><div class="c3r0" style="top:192px"></div></div></div>
<svg width="1725" height="657" viewBox="0 0 1725 657"><text x="970.4" y="649.4" text-anchor="middle" font-family="DejaVu Sans, sans-serif" font-size="30.7" fill="#fff" stroke="#fff" stroke-width="2.6" stroke-linejoin="round">0.00</text><text x="970.4" y="649.4" text-anchor="middle" font-family="DejaVu Sans, sans-serif" font-size="30.7" fill="#3a3a3a" stroke="#fff" stroke-width="0.8">0.00</text><text x="1185.8" y="649.4" text-anchor="middle" font-family="DejaVu Sans, sans-serif" font-size="30.7" fill="#fff" stroke="#fff" stroke-width="2.6" stroke-linejoin="round">0.33</text><text x="1185.8" y="649.4" text-anchor="middle" font-family="DejaVu Sans, sans-serif" font-size="30.7" fill="#3a3a3a" stroke="#fff" stroke-width="0.8">0.33</text><text x="1401.6" y="649.4" text-anchor="middle" font-family="DejaVu Sans, sans-serif" font-size="30.7" fill="#fff" stroke="#fff" stroke-width="2.6" stroke-linejoin="round">0.66</text><text x="1401.6" y="649.4" text-anchor="middle" font-family="DejaVu Sans, sans-serif" font-size="30.7" fill="#3a3a3a" stroke="#fff" stroke-width="0.8">0.66</text><text x="1623.3" y="649.4" text-anchor="middle" font-family="DejaVu Sans, sans-serif" font-size="30.7" fill="#fff" stroke="#fff" stroke-width="2.6" stroke-linejoin="round">1.00</text><text x="1623.3" y="649.4" text-anchor="middle" font-family="DejaVu Sans, sans-serif" font-size="30.7" fill="#3a3a3a" stroke="#fff" stroke-width="0.8">1.00</text></svg>
</body></html>
